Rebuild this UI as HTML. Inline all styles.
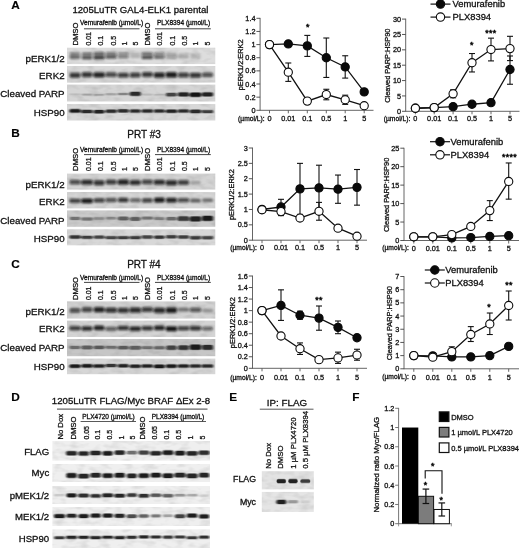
<!DOCTYPE html>
<html lang="en"><head><meta charset="utf-8"><title>Figure</title>
<style>html,body{margin:0;padding:0;background:#fff}body{width:520px;height:549px;overflow:hidden;font-family:"Liberation Sans",sans-serif}svg{display:block}</style>
</head><body>
<svg width="520" height="549" viewBox="0 0 520 549" font-family="Liberation Sans, sans-serif">
<defs>
<filter id="b0_8" x="-20%" y="-100%" width="140%" height="300%"><feGaussianBlur stdDeviation="0.8 0.64"/></filter>
<filter id="b0_9" x="-20%" y="-100%" width="140%" height="300%"><feGaussianBlur stdDeviation="0.9 0.72"/></filter>
<filter id="b1_0" x="-20%" y="-100%" width="140%" height="300%"><feGaussianBlur stdDeviation="1.0 0.80"/></filter>
<filter id="b0_7" x="-20%" y="-100%" width="140%" height="300%"><feGaussianBlur stdDeviation="0.7 0.56"/></filter>
<filter id="b0_6" x="-20%" y="-100%" width="140%" height="300%"><feGaussianBlur stdDeviation="0.6 0.48"/></filter>
<filter id="nz" x="0" y="0" width="100%" height="100%"><feTurbulence type="fractalNoise" baseFrequency="0.09 0.2" numOctaves="2" seed="3" result="t"/><feColorMatrix in="t" type="matrix" values="0 0 0 0 0  0 0 0 0 0  0 0 0 0 0  0.9 0 0 0 -0.38" result="a"/><feComposite in="a" in2="SourceGraphic" operator="in"/></filter>
</defs>
<rect width="520" height="549" fill="#fff"/>
<text x="11.20" y="9.10" font-size="11.8" text-anchor="start" font-weight="bold" fill="#000" stroke="#000" stroke-width="0.15">A</text>
<text x="140.40" y="13.00" font-size="9.6" text-anchor="middle" font-weight="normal" fill="#111" stroke="#111" stroke-width="0.3">1205LuTR GAL4-ELK1 parental</text>
<text x="111.60" y="25.40" font-size="6.6" text-anchor="middle" font-weight="normal" fill="#111" stroke="#111" stroke-width="0.3">Vemurafenib (µmol/L)</text>
<line x1="84.00" y1="28.80" x2="139.50" y2="28.80" stroke="#111" stroke-width="0.8"/>
<text x="183.60" y="25.40" font-size="6.6" text-anchor="middle" font-weight="normal" fill="#111" stroke="#111" stroke-width="0.3">PLX8394 (µmol/L)</text>
<line x1="155.00" y1="28.80" x2="210.80" y2="28.80" stroke="#111" stroke-width="0.8"/>
<text x="78.35" y="45.60" font-size="7.7" text-anchor="start" font-weight="normal" fill="#111" stroke="#111" stroke-width="0.3" transform="rotate(-90 78.35 45.60)">DMSO</text>
<text x="91.15" y="45.60" font-size="6.9" text-anchor="start" font-weight="normal" fill="#111" stroke="#111" stroke-width="0.3" transform="rotate(-90 91.15 45.60)">0.01</text>
<text x="103.35" y="45.60" font-size="6.9" text-anchor="start" font-weight="normal" fill="#111" stroke="#111" stroke-width="0.3" transform="rotate(-90 103.35 45.60)">0.1</text>
<text x="115.65" y="45.60" font-size="6.9" text-anchor="start" font-weight="normal" fill="#111" stroke="#111" stroke-width="0.3" transform="rotate(-90 115.65 45.60)">0.5</text>
<text x="127.25" y="45.60" font-size="6.9" text-anchor="start" font-weight="normal" fill="#111" stroke="#111" stroke-width="0.3" transform="rotate(-90 127.25 45.60)">1</text>
<text x="138.05" y="45.60" font-size="6.9" text-anchor="start" font-weight="normal" fill="#111" stroke="#111" stroke-width="0.3" transform="rotate(-90 138.05 45.60)">5</text>
<text x="149.85" y="45.60" font-size="7.7" text-anchor="start" font-weight="normal" fill="#111" stroke="#111" stroke-width="0.3" transform="rotate(-90 149.85 45.60)">DMSO</text>
<text x="162.45" y="45.60" font-size="6.9" text-anchor="start" font-weight="normal" fill="#111" stroke="#111" stroke-width="0.3" transform="rotate(-90 162.45 45.60)">0.01</text>
<text x="175.05" y="45.60" font-size="6.9" text-anchor="start" font-weight="normal" fill="#111" stroke="#111" stroke-width="0.3" transform="rotate(-90 175.05 45.60)">0.1</text>
<text x="186.85" y="45.60" font-size="6.9" text-anchor="start" font-weight="normal" fill="#111" stroke="#111" stroke-width="0.3" transform="rotate(-90 186.85 45.60)">0.5</text>
<text x="198.45" y="45.60" font-size="6.9" text-anchor="start" font-weight="normal" fill="#111" stroke="#111" stroke-width="0.3" transform="rotate(-90 198.45 45.60)">1</text>
<text x="210.15" y="45.60" font-size="6.9" text-anchor="start" font-weight="normal" fill="#111" stroke="#111" stroke-width="0.3" transform="rotate(-90 210.15 45.60)">5</text>
<clipPath id="c1"><rect x="67" y="47.7" width="148.30" height="16.40"/></clipPath>
<rect x="67" y="47.7" width="148.30" height="16.40" fill="#dddddd"/>
<rect x="67" y="47.7" width="148.30" height="16.40" fill="#000" opacity="0.22" filter="url(#nz)"/>
<g clip-path="url(#c1)"><g filter="url(#b1_0)">
<rect x="69.51" y="52.08" width="10.98" height="6.66" rx="2" fill="#141414" opacity="0.17"/>
<rect x="69.81" y="52.64" width="10.38" height="2.33" rx="1" fill="#141414" opacity="0.41"/>
<rect x="69.81" y="55.86" width="10.38" height="2.77" rx="1" fill="#141414" opacity="0.55"/>
<rect x="81.61" y="52.22" width="10.89" height="7.03" rx="2" fill="#141414" opacity="0.20"/>
<rect x="81.91" y="52.80" width="10.29" height="2.46" rx="1" fill="#141414" opacity="0.49"/>
<rect x="81.91" y="56.20" width="10.29" height="2.93" rx="1" fill="#141414" opacity="0.65"/>
<rect x="93.48" y="51.85" width="11.24" height="7.51" rx="2" fill="#141414" opacity="0.23"/>
<rect x="93.78" y="52.48" width="10.64" height="2.63" rx="1" fill="#141414" opacity="0.58"/>
<rect x="93.78" y="56.11" width="10.64" height="3.13" rx="1" fill="#141414" opacity="0.78"/>
<rect x="105.45" y="51.72" width="11.41" height="6.84" rx="2" fill="#141414" opacity="0.18"/>
<rect x="105.75" y="52.29" width="10.81" height="2.40" rx="1" fill="#141414" opacity="0.45"/>
<rect x="105.75" y="55.60" width="10.81" height="2.85" rx="1" fill="#141414" opacity="0.60"/>
<rect x="117.54" y="51.99" width="11.32" height="6.29" rx="2" fill="#141414" opacity="0.14"/>
<rect x="117.84" y="52.51" width="10.72" height="2.20" rx="1" fill="#141414" opacity="0.34"/>
<rect x="117.84" y="55.55" width="10.72" height="2.62" rx="1" fill="#141414" opacity="0.45"/>
<rect x="129.80" y="52.50" width="10.91" height="5.36" rx="2" fill="#141414" opacity="0.06"/>
<rect x="130.10" y="52.95" width="10.31" height="1.87" rx="1" fill="#141414" opacity="0.15"/>
<rect x="130.10" y="55.54" width="10.31" height="2.23" rx="1" fill="#141414" opacity="0.20"/>
<rect x="141.40" y="51.99" width="11.79" height="7.03" rx="2" fill="#141414" opacity="0.20"/>
<rect x="141.70" y="52.58" width="11.19" height="2.46" rx="1" fill="#141414" opacity="0.49"/>
<rect x="141.70" y="55.98" width="11.19" height="2.93" rx="1" fill="#141414" opacity="0.65"/>
<rect x="153.82" y="51.88" width="11.07" height="6.66" rx="2" fill="#141414" opacity="0.17"/>
<rect x="154.12" y="52.44" width="10.47" height="2.33" rx="1" fill="#141414" opacity="0.41"/>
<rect x="154.12" y="55.66" width="10.47" height="2.77" rx="1" fill="#141414" opacity="0.55"/>
<rect x="165.43" y="52.87" width="11.94" height="5.73" rx="2" fill="#141414" opacity="0.09"/>
<rect x="165.73" y="53.34" width="11.34" height="2.01" rx="1" fill="#141414" opacity="0.22"/>
<rect x="165.73" y="56.11" width="11.34" height="2.39" rx="1" fill="#141414" opacity="0.30"/>
<rect x="177.81" y="52.97" width="11.28" height="5.43" rx="2" fill="#141414" opacity="0.07"/>
<rect x="178.11" y="53.42" width="10.68" height="1.90" rx="1" fill="#141414" opacity="0.17"/>
<rect x="178.11" y="56.05" width="10.68" height="2.26" rx="1" fill="#141414" opacity="0.22"/>
<rect x="190.07" y="53.45" width="10.86" height="5.28" rx="2" fill="#141414" opacity="0.05"/>
<rect x="190.37" y="53.89" width="10.26" height="1.85" rx="1" fill="#141414" opacity="0.14"/>
<rect x="190.37" y="56.44" width="10.26" height="2.20" rx="1" fill="#141414" opacity="0.18"/>
</g></g>
<text x="64.60" y="61.80" font-size="9.75" text-anchor="end" font-weight="normal" fill="#111" stroke="#111" stroke-width="0.3">pERK1/2</text>
<clipPath id="c2"><rect x="67" y="66" width="148.30" height="16.60"/></clipPath>
<rect x="67" y="66" width="148.30" height="16.60" fill="#d8d8d8"/>
<rect x="67" y="66" width="148.30" height="16.60" fill="#000" opacity="0.22" filter="url(#nz)"/>
<g clip-path="url(#c2)"><g filter="url(#b1_0)">
<rect x="69.33" y="72.37" width="11.35" height="5.98" rx="2.00" fill="#101010" opacity="0.26"/>
<rect x="69.73" y="73.07" width="10.55" height="4.58" rx="1.60" fill="#0c0c0c" opacity="0.75"/>
<rect x="81.48" y="71.66" width="11.14" height="5.98" rx="2.00" fill="#101010" opacity="0.26"/>
<rect x="81.88" y="72.36" width="10.34" height="4.58" rx="1.60" fill="#0c0c0c" opacity="0.75"/>
<rect x="93.11" y="71.70" width="11.98" height="6.21" rx="2.00" fill="#101010" opacity="0.30"/>
<rect x="93.51" y="72.40" width="11.18" height="4.81" rx="1.60" fill="#0c0c0c" opacity="0.85"/>
<rect x="105.30" y="71.81" width="11.70" height="5.75" rx="2.00" fill="#101010" opacity="0.23"/>
<rect x="105.70" y="72.51" width="10.90" height="4.35" rx="1.60" fill="#0c0c0c" opacity="0.65"/>
<rect x="117.48" y="72.21" width="11.45" height="5.86" rx="2.00" fill="#101010" opacity="0.24"/>
<rect x="117.88" y="72.91" width="10.65" height="4.46" rx="1.60" fill="#0c0c0c" opacity="0.70"/>
<rect x="129.71" y="72.12" width="11.08" height="5.86" rx="2.00" fill="#101010" opacity="0.24"/>
<rect x="130.11" y="72.82" width="10.28" height="4.46" rx="1.60" fill="#0c0c0c" opacity="0.70"/>
<rect x="141.68" y="71.57" width="11.25" height="5.98" rx="2.00" fill="#101010" opacity="0.26"/>
<rect x="142.08" y="72.27" width="10.45" height="4.58" rx="1.60" fill="#0c0c0c" opacity="0.75"/>
<rect x="153.59" y="72.08" width="11.51" height="6.21" rx="2.00" fill="#101010" opacity="0.30"/>
<rect x="153.99" y="72.78" width="10.71" height="4.81" rx="1.60" fill="#0c0c0c" opacity="0.85"/>
<rect x="165.55" y="71.65" width="11.70" height="6.32" rx="2.00" fill="#101010" opacity="0.32"/>
<rect x="165.95" y="72.35" width="10.90" height="4.92" rx="1.60" fill="#0c0c0c" opacity="0.90"/>
<rect x="177.77" y="72.02" width="11.36" height="5.86" rx="2.00" fill="#101010" opacity="0.24"/>
<rect x="178.17" y="72.72" width="10.56" height="4.46" rx="1.60" fill="#0c0c0c" opacity="0.70"/>
<rect x="189.58" y="72.31" width="11.84" height="5.98" rx="2.00" fill="#101010" opacity="0.26"/>
<rect x="189.98" y="73.01" width="11.04" height="4.58" rx="1.60" fill="#0c0c0c" opacity="0.75"/>
<rect x="201.71" y="71.93" width="11.69" height="5.63" rx="2.00" fill="#101010" opacity="0.21"/>
<rect x="202.11" y="72.63" width="10.89" height="4.23" rx="1.60" fill="#0c0c0c" opacity="0.60"/>
</g></g>
<text x="64.60" y="78.80" font-size="9.75" text-anchor="end" font-weight="normal" fill="#111" stroke="#111" stroke-width="0.3">ERK2</text>
<clipPath id="c3"><rect x="67" y="84.6" width="148.30" height="16.90"/></clipPath>
<rect x="67" y="84.6" width="148.30" height="16.90" fill="#d5d5d5"/>
<rect x="67" y="84.6" width="148.30" height="16.90" fill="#000" opacity="0.22" filter="url(#nz)"/>
<g clip-path="url(#c3)"><g filter="url(#b0_8)">
<rect x="68.97" y="92.91" width="12.05" height="2.93" rx="0.77" fill="#101010" opacity="0.03"/>
<rect x="69.37" y="93.61" width="11.25" height="1.53" rx="0.77" fill="#0c0c0c" opacity="0.08"/>
<rect x="81.38" y="92.97" width="11.35" height="3.23" rx="0.91" fill="#101010" opacity="0.06"/>
<rect x="81.78" y="93.67" width="10.55" height="1.83" rx="0.91" fill="#0c0c0c" opacity="0.18"/>
<rect x="93.53" y="93.22" width="11.14" height="3.23" rx="0.91" fill="#101010" opacity="0.06"/>
<rect x="93.93" y="93.92" width="10.34" height="1.83" rx="0.91" fill="#0c0c0c" opacity="0.18"/>
<rect x="105.20" y="92.65" width="11.91" height="3.23" rx="0.91" fill="#101010" opacity="0.06"/>
<rect x="105.60" y="93.35" width="11.11" height="1.83" rx="0.91" fill="#0c0c0c" opacity="0.18"/>
<rect x="117.41" y="92.21" width="11.59" height="3.58" rx="1.09" fill="#101010" opacity="0.10"/>
<rect x="117.81" y="92.91" width="10.79" height="2.18" rx="1.09" fill="#0c0c0c" opacity="0.30"/>
<rect x="129.35" y="91.36" width="11.80" height="5.06" rx="1.83" fill="#101010" opacity="0.28"/>
<rect x="129.75" y="92.06" width="11.00" height="3.66" rx="1.60" fill="#0c0c0c" opacity="0.80"/>
<rect x="141.46" y="93.12" width="11.69" height="2.99" rx="0.80" fill="#101010" opacity="0.03"/>
<rect x="141.86" y="93.82" width="10.89" height="1.59" rx="0.80" fill="#0c0c0c" opacity="0.10"/>
<rect x="153.66" y="93.23" width="11.38" height="2.99" rx="0.80" fill="#101010" opacity="0.03"/>
<rect x="154.06" y="93.93" width="10.58" height="1.59" rx="0.80" fill="#0c0c0c" opacity="0.10"/>
<rect x="165.54" y="92.24" width="11.71" height="4.62" rx="1.61" fill="#101010" opacity="0.23"/>
<rect x="165.94" y="92.94" width="10.91" height="3.22" rx="1.60" fill="#0c0c0c" opacity="0.65"/>
<rect x="177.68" y="91.82" width="11.55" height="5.21" rx="1.91" fill="#101010" opacity="0.30"/>
<rect x="178.08" y="92.52" width="10.75" height="3.81" rx="1.60" fill="#0c0c0c" opacity="0.85"/>
<rect x="189.43" y="91.94" width="12.13" height="5.51" rx="2.00" fill="#101010" opacity="0.33"/>
<rect x="189.83" y="92.64" width="11.33" height="4.11" rx="1.60" fill="#0c0c0c" opacity="0.95"/>
<rect x="201.65" y="91.72" width="11.80" height="5.21" rx="1.91" fill="#101010" opacity="0.30"/>
<rect x="202.05" y="92.42" width="11.00" height="3.81" rx="1.60" fill="#0c0c0c" opacity="0.85"/>
</g></g>
<text x="64.60" y="97.00" font-size="9.75" text-anchor="end" font-weight="normal" fill="#111" stroke="#111" stroke-width="0.3">Cleaved PARP</text>
<clipPath id="c4"><rect x="67" y="104" width="148.30" height="16.50"/></clipPath>
<rect x="67" y="104" width="148.30" height="16.50" fill="#d8d8d8"/>
<rect x="67" y="104" width="148.30" height="16.50" fill="#000" opacity="0.22" filter="url(#nz)"/>
<g clip-path="url(#c4)"><g filter="url(#b0_8)">
<rect x="69.08" y="108.61" width="11.84" height="4.61" rx="1.60" fill="#101010" opacity="0.32"/>
<rect x="69.48" y="109.31" width="11.04" height="3.21" rx="1.60" fill="#0c0c0c" opacity="0.90"/>
<rect x="80.95" y="109.27" width="12.19" height="4.46" rx="1.53" fill="#101010" opacity="0.28"/>
<rect x="81.35" y="109.97" width="11.39" height="3.06" rx="1.53" fill="#0c0c0c" opacity="0.80"/>
<rect x="93.43" y="109.40" width="11.34" height="4.54" rx="1.57" fill="#101010" opacity="0.30"/>
<rect x="93.83" y="110.10" width="10.54" height="3.13" rx="1.57" fill="#0c0c0c" opacity="0.85"/>
<rect x="105.25" y="109.01" width="11.80" height="4.46" rx="1.53" fill="#101010" opacity="0.28"/>
<rect x="105.65" y="109.71" width="11.00" height="3.06" rx="1.53" fill="#0c0c0c" opacity="0.80"/>
<rect x="117.42" y="108.64" width="11.55" height="4.46" rx="1.53" fill="#101010" opacity="0.28"/>
<rect x="117.82" y="109.34" width="10.75" height="3.06" rx="1.53" fill="#0c0c0c" opacity="0.80"/>
<rect x="129.68" y="108.79" width="11.14" height="4.46" rx="1.53" fill="#101010" opacity="0.28"/>
<rect x="130.08" y="109.49" width="10.34" height="3.06" rx="1.53" fill="#0c0c0c" opacity="0.80"/>
<rect x="141.34" y="108.68" width="11.92" height="4.46" rx="1.53" fill="#101010" opacity="0.28"/>
<rect x="141.74" y="109.38" width="11.12" height="3.06" rx="1.53" fill="#0c0c0c" opacity="0.80"/>
<rect x="153.70" y="108.75" width="11.30" height="4.46" rx="1.53" fill="#101010" opacity="0.28"/>
<rect x="154.10" y="109.45" width="10.50" height="3.06" rx="1.53" fill="#0c0c0c" opacity="0.80"/>
<rect x="165.38" y="108.97" width="12.05" height="4.54" rx="1.57" fill="#101010" opacity="0.30"/>
<rect x="165.78" y="109.67" width="11.25" height="3.13" rx="1.57" fill="#0c0c0c" opacity="0.85"/>
<rect x="177.68" y="108.70" width="11.54" height="4.46" rx="1.53" fill="#101010" opacity="0.28"/>
<rect x="178.08" y="109.40" width="10.74" height="3.06" rx="1.53" fill="#0c0c0c" opacity="0.80"/>
<rect x="189.47" y="109.17" width="12.06" height="4.46" rx="1.53" fill="#101010" opacity="0.28"/>
<rect x="189.87" y="109.87" width="11.26" height="3.06" rx="1.53" fill="#0c0c0c" opacity="0.80"/>
<rect x="201.53" y="109.51" width="12.04" height="4.31" rx="1.46" fill="#101010" opacity="0.24"/>
<rect x="201.93" y="110.21" width="11.24" height="2.91" rx="1.46" fill="#0c0c0c" opacity="0.70"/>
</g></g>
<text x="64.60" y="116.20" font-size="9.75" text-anchor="end" font-weight="normal" fill="#111" stroke="#111" stroke-width="0.3">HSP90</text>
<text x="11.20" y="136.90" font-size="11.8" text-anchor="start" font-weight="bold" fill="#000" stroke="#000" stroke-width="0.15">B</text>
<text x="144.10" y="138.30" font-size="10" text-anchor="middle" font-weight="normal" fill="#111" stroke="#111" stroke-width="0.3">PRT #3</text>
<text x="111.60" y="152.10" font-size="6.6" text-anchor="middle" font-weight="normal" fill="#111" stroke="#111" stroke-width="0.3">Vemurafenib (µmol/L)</text>
<line x1="84.00" y1="154.60" x2="139.50" y2="154.60" stroke="#111" stroke-width="0.8"/>
<text x="183.60" y="152.10" font-size="6.6" text-anchor="middle" font-weight="normal" fill="#111" stroke="#111" stroke-width="0.3">PLX8394 (µmol/L)</text>
<line x1="155.00" y1="154.60" x2="210.80" y2="154.60" stroke="#111" stroke-width="0.8"/>
<text x="78.35" y="170.90" font-size="7.7" text-anchor="start" font-weight="normal" fill="#111" stroke="#111" stroke-width="0.3" transform="rotate(-90 78.35 170.90)">DMSO</text>
<text x="91.15" y="170.90" font-size="6.9" text-anchor="start" font-weight="normal" fill="#111" stroke="#111" stroke-width="0.3" transform="rotate(-90 91.15 170.90)">0.01</text>
<text x="103.35" y="170.90" font-size="6.9" text-anchor="start" font-weight="normal" fill="#111" stroke="#111" stroke-width="0.3" transform="rotate(-90 103.35 170.90)">0.1</text>
<text x="115.65" y="170.90" font-size="6.9" text-anchor="start" font-weight="normal" fill="#111" stroke="#111" stroke-width="0.3" transform="rotate(-90 115.65 170.90)">0.5</text>
<text x="127.25" y="170.90" font-size="6.9" text-anchor="start" font-weight="normal" fill="#111" stroke="#111" stroke-width="0.3" transform="rotate(-90 127.25 170.90)">1</text>
<text x="138.05" y="170.90" font-size="6.9" text-anchor="start" font-weight="normal" fill="#111" stroke="#111" stroke-width="0.3" transform="rotate(-90 138.05 170.90)">5</text>
<text x="149.85" y="170.90" font-size="7.7" text-anchor="start" font-weight="normal" fill="#111" stroke="#111" stroke-width="0.3" transform="rotate(-90 149.85 170.90)">DMSO</text>
<text x="162.45" y="170.90" font-size="6.9" text-anchor="start" font-weight="normal" fill="#111" stroke="#111" stroke-width="0.3" transform="rotate(-90 162.45 170.90)">0.01</text>
<text x="175.05" y="170.90" font-size="6.9" text-anchor="start" font-weight="normal" fill="#111" stroke="#111" stroke-width="0.3" transform="rotate(-90 175.05 170.90)">0.1</text>
<text x="186.85" y="170.90" font-size="6.9" text-anchor="start" font-weight="normal" fill="#111" stroke="#111" stroke-width="0.3" transform="rotate(-90 186.85 170.90)">0.5</text>
<text x="198.45" y="170.90" font-size="6.9" text-anchor="start" font-weight="normal" fill="#111" stroke="#111" stroke-width="0.3" transform="rotate(-90 198.45 170.90)">1</text>
<text x="210.15" y="170.90" font-size="6.9" text-anchor="start" font-weight="normal" fill="#111" stroke="#111" stroke-width="0.3" transform="rotate(-90 210.15 170.90)">5</text>
<clipPath id="c5"><rect x="67" y="173.6" width="148.30" height="16.00"/></clipPath>
<rect x="67" y="173.6" width="148.30" height="16.00" fill="#d4d4d4"/>
<rect x="67" y="173.6" width="148.30" height="16.00" fill="#000" opacity="0.22" filter="url(#nz)"/>
<g clip-path="url(#c5)"><g filter="url(#b1_0)">
<rect x="69.25" y="179.36" width="11.50" height="5.63" rx="2.00" fill="#101010" opacity="0.21"/>
<rect x="69.65" y="180.06" width="10.70" height="4.23" rx="1.60" fill="#0c0c0c" opacity="0.60"/>
<rect x="81.02" y="179.21" width="12.06" height="6.09" rx="2.00" fill="#101010" opacity="0.28"/>
<rect x="81.42" y="179.91" width="11.26" height="4.69" rx="1.60" fill="#0c0c0c" opacity="0.80"/>
<rect x="93.51" y="179.87" width="11.18" height="5.98" rx="2.00" fill="#101010" opacity="0.26"/>
<rect x="93.91" y="180.57" width="10.38" height="4.58" rx="1.60" fill="#0c0c0c" opacity="0.75"/>
<rect x="105.51" y="179.15" width="11.28" height="5.86" rx="2.00" fill="#101010" opacity="0.24"/>
<rect x="105.91" y="179.85" width="10.48" height="4.46" rx="1.60" fill="#0c0c0c" opacity="0.70"/>
<rect x="117.41" y="179.03" width="11.58" height="6.21" rx="2.00" fill="#101010" opacity="0.30"/>
<rect x="117.81" y="179.73" width="10.78" height="4.81" rx="1.60" fill="#0c0c0c" opacity="0.85"/>
<rect x="129.59" y="179.44" width="11.32" height="6.09" rx="2.00" fill="#101010" opacity="0.28"/>
<rect x="129.99" y="180.14" width="10.52" height="4.69" rx="1.60" fill="#0c0c0c" opacity="0.80"/>
<rect x="141.55" y="179.03" width="11.50" height="5.75" rx="2.00" fill="#101010" opacity="0.23"/>
<rect x="141.95" y="179.73" width="10.70" height="4.35" rx="1.60" fill="#0c0c0c" opacity="0.65"/>
<rect x="153.51" y="179.22" width="11.68" height="6.09" rx="2.00" fill="#101010" opacity="0.28"/>
<rect x="153.91" y="179.92" width="10.88" height="4.69" rx="1.60" fill="#0c0c0c" opacity="0.80"/>
<rect x="165.49" y="179.81" width="11.83" height="6.09" rx="2.00" fill="#101010" opacity="0.28"/>
<rect x="165.89" y="180.51" width="11.03" height="4.69" rx="1.60" fill="#0c0c0c" opacity="0.80"/>
<rect x="177.58" y="179.48" width="11.74" height="5.86" rx="2.00" fill="#101010" opacity="0.24"/>
<rect x="177.98" y="180.18" width="10.94" height="4.46" rx="1.60" fill="#0c0c0c" opacity="0.70"/>
<rect x="189.97" y="180.22" width="11.06" height="4.71" rx="1.66" fill="#101010" opacity="0.07"/>
<rect x="190.37" y="180.92" width="10.26" height="3.31" rx="1.60" fill="#0c0c0c" opacity="0.20"/>
</g></g>
<text x="64.60" y="187.60" font-size="9.75" text-anchor="end" font-weight="normal" fill="#111" stroke="#111" stroke-width="0.3">pERK1/2</text>
<clipPath id="c6"><rect x="67" y="192" width="148.30" height="16.40"/></clipPath>
<rect x="67" y="192" width="148.30" height="16.40" fill="#d6d6d6"/>
<rect x="67" y="192" width="148.30" height="16.40" fill="#000" opacity="0.22" filter="url(#nz)"/>
<g clip-path="url(#c6)"><g filter="url(#b1_0)">
<rect x="69.03" y="198.26" width="11.94" height="5.28" rx="1.94" fill="#101010" opacity="0.24"/>
<rect x="69.43" y="198.96" width="11.14" height="3.88" rx="1.60" fill="#0c0c0c" opacity="0.70"/>
<rect x="81.07" y="198.03" width="11.96" height="5.68" rx="2.00" fill="#101010" opacity="0.32"/>
<rect x="81.47" y="198.73" width="11.16" height="4.28" rx="1.60" fill="#0c0c0c" opacity="0.90"/>
<rect x="93.36" y="197.75" width="11.48" height="5.28" rx="1.94" fill="#101010" opacity="0.24"/>
<rect x="93.76" y="198.45" width="10.68" height="3.88" rx="1.60" fill="#0c0c0c" opacity="0.70"/>
<rect x="105.27" y="197.56" width="11.76" height="5.08" rx="1.84" fill="#101010" opacity="0.21"/>
<rect x="105.67" y="198.26" width="10.96" height="3.68" rx="1.60" fill="#0c0c0c" opacity="0.60"/>
<rect x="117.66" y="197.37" width="11.08" height="5.38" rx="1.99" fill="#101010" opacity="0.26"/>
<rect x="118.06" y="198.07" width="10.28" height="3.98" rx="1.60" fill="#0c0c0c" opacity="0.75"/>
<rect x="129.65" y="197.77" width="11.19" height="4.88" rx="1.74" fill="#101010" opacity="0.17"/>
<rect x="130.05" y="198.47" width="10.39" height="3.48" rx="1.60" fill="#0c0c0c" opacity="0.50"/>
<rect x="141.77" y="197.70" width="11.06" height="5.28" rx="1.94" fill="#101010" opacity="0.24"/>
<rect x="142.17" y="198.40" width="10.26" height="3.88" rx="1.60" fill="#0c0c0c" opacity="0.70"/>
<rect x="153.76" y="197.16" width="11.18" height="5.68" rx="2.00" fill="#101010" opacity="0.32"/>
<rect x="154.16" y="197.86" width="10.38" height="4.28" rx="1.60" fill="#0c0c0c" opacity="0.90"/>
<rect x="165.68" y="197.31" width="11.44" height="5.58" rx="2.00" fill="#101010" opacity="0.30"/>
<rect x="166.08" y="198.01" width="10.64" height="4.18" rx="1.60" fill="#0c0c0c" opacity="0.85"/>
<rect x="177.43" y="197.44" width="12.05" height="5.18" rx="1.89" fill="#101010" opacity="0.23"/>
<rect x="177.83" y="198.14" width="11.25" height="3.78" rx="1.60" fill="#0c0c0c" opacity="0.65"/>
<rect x="189.91" y="198.22" width="11.18" height="4.78" rx="1.69" fill="#101010" opacity="0.16"/>
<rect x="190.31" y="198.92" width="10.38" height="3.38" rx="1.60" fill="#0c0c0c" opacity="0.45"/>
<rect x="201.84" y="197.91" width="11.42" height="4.68" rx="1.64" fill="#101010" opacity="0.14"/>
<rect x="202.24" y="198.61" width="10.62" height="3.28" rx="1.60" fill="#0c0c0c" opacity="0.40"/>
</g></g>
<text x="64.60" y="204.60" font-size="9.75" text-anchor="end" font-weight="normal" fill="#111" stroke="#111" stroke-width="0.3">ERK2</text>
<clipPath id="c7"><rect x="67" y="210.4" width="148.30" height="16.40"/></clipPath>
<rect x="67" y="210.4" width="148.30" height="16.40" fill="#cacaca"/>
<rect x="67" y="210.4" width="148.30" height="16.40" fill="#000" opacity="0.22" filter="url(#nz)"/>
<g clip-path="url(#c7)"><g filter="url(#b0_8)">
<rect x="69.43" y="216.32" width="11.15" height="4.30" rx="1.45" fill="#101010" opacity="0.12"/>
<rect x="69.83" y="217.02" width="10.35" height="2.90" rx="1.45" fill="#0c0c0c" opacity="0.35"/>
<rect x="80.95" y="216.80" width="12.19" height="4.30" rx="1.45" fill="#101010" opacity="0.12"/>
<rect x="81.35" y="217.50" width="11.39" height="2.90" rx="1.45" fill="#0c0c0c" opacity="0.35"/>
<rect x="93.31" y="216.60" width="11.58" height="3.93" rx="1.26" fill="#101010" opacity="0.09"/>
<rect x="93.71" y="217.30" width="10.78" height="2.53" rx="1.26" fill="#0c0c0c" opacity="0.25"/>
<rect x="105.59" y="216.22" width="11.12" height="3.93" rx="1.26" fill="#101010" opacity="0.09"/>
<rect x="105.99" y="216.92" width="10.32" height="2.53" rx="1.26" fill="#0c0c0c" opacity="0.25"/>
<rect x="117.54" y="216.02" width="11.32" height="4.85" rx="1.72" fill="#101010" opacity="0.17"/>
<rect x="117.94" y="216.72" width="10.52" height="3.45" rx="1.60" fill="#0c0c0c" opacity="0.50"/>
<rect x="129.65" y="216.50" width="11.19" height="4.85" rx="1.72" fill="#101010" opacity="0.17"/>
<rect x="130.05" y="217.20" width="10.39" height="3.45" rx="1.60" fill="#0c0c0c" opacity="0.50"/>
<rect x="141.23" y="215.97" width="12.14" height="4.30" rx="1.45" fill="#101010" opacity="0.12"/>
<rect x="141.63" y="216.67" width="11.34" height="2.90" rx="1.45" fill="#0c0c0c" opacity="0.35"/>
<rect x="153.76" y="216.57" width="11.18" height="4.11" rx="1.36" fill="#101010" opacity="0.10"/>
<rect x="154.16" y="217.27" width="10.38" height="2.71" rx="1.36" fill="#0c0c0c" opacity="0.30"/>
<rect x="165.88" y="216.40" width="11.03" height="4.48" rx="1.54" fill="#101010" opacity="0.14"/>
<rect x="166.28" y="217.10" width="10.23" height="3.08" rx="1.54" fill="#0c0c0c" opacity="0.40"/>
<rect x="177.36" y="215.84" width="12.17" height="5.59" rx="2.00" fill="#101010" opacity="0.24"/>
<rect x="177.76" y="216.54" width="11.37" height="4.19" rx="1.60" fill="#0c0c0c" opacity="0.70"/>
<rect x="189.58" y="215.89" width="11.84" height="6.14" rx="2.00" fill="#101010" opacity="0.30"/>
<rect x="189.98" y="216.59" width="11.04" height="4.74" rx="1.60" fill="#0c0c0c" opacity="0.85"/>
<rect x="201.83" y="215.20" width="11.44" height="6.32" rx="2.00" fill="#101010" opacity="0.32"/>
<rect x="202.23" y="215.90" width="10.64" height="4.92" rx="1.60" fill="#0c0c0c" opacity="0.90"/>
</g></g>
<text x="64.60" y="223.60" font-size="9.75" text-anchor="end" font-weight="normal" fill="#111" stroke="#111" stroke-width="0.3">Cleaved PARP</text>
<clipPath id="c8"><rect x="67" y="229.3" width="148.30" height="16.00"/></clipPath>
<rect x="67" y="229.3" width="148.30" height="16.00" fill="#d8d8d8"/>
<rect x="67" y="229.3" width="148.30" height="16.00" fill="#000" opacity="0.22" filter="url(#nz)"/>
<g clip-path="url(#c8)"><g filter="url(#b0_8)">
<rect x="69.04" y="234.77" width="11.93" height="4.38" rx="1.49" fill="#101010" opacity="0.26"/>
<rect x="69.44" y="235.47" width="11.13" height="2.98" rx="1.49" fill="#0c0c0c" opacity="0.75"/>
<rect x="81.08" y="235.18" width="11.93" height="4.31" rx="1.46" fill="#101010" opacity="0.24"/>
<rect x="81.48" y="235.88" width="11.13" height="2.91" rx="1.46" fill="#0c0c0c" opacity="0.70"/>
<rect x="93.47" y="235.01" width="11.27" height="4.23" rx="1.42" fill="#101010" opacity="0.23"/>
<rect x="93.87" y="235.71" width="10.47" height="2.83" rx="1.42" fill="#0c0c0c" opacity="0.65"/>
<rect x="105.06" y="235.49" width="12.18" height="4.23" rx="1.42" fill="#101010" opacity="0.23"/>
<rect x="105.46" y="236.19" width="11.38" height="2.83" rx="1.42" fill="#0c0c0c" opacity="0.65"/>
<rect x="117.22" y="235.50" width="11.97" height="4.31" rx="1.46" fill="#101010" opacity="0.24"/>
<rect x="117.62" y="236.20" width="11.17" height="2.91" rx="1.46" fill="#0c0c0c" opacity="0.70"/>
<rect x="129.31" y="235.46" width="11.89" height="4.31" rx="1.46" fill="#101010" opacity="0.24"/>
<rect x="129.71" y="236.16" width="11.09" height="2.91" rx="1.46" fill="#0c0c0c" opacity="0.70"/>
<rect x="141.49" y="234.91" width="11.62" height="4.23" rx="1.42" fill="#101010" opacity="0.23"/>
<rect x="141.89" y="235.61" width="10.82" height="2.83" rx="1.42" fill="#0c0c0c" opacity="0.65"/>
<rect x="153.83" y="234.96" width="11.03" height="4.38" rx="1.49" fill="#101010" opacity="0.26"/>
<rect x="154.23" y="235.66" width="10.23" height="2.98" rx="1.49" fill="#0c0c0c" opacity="0.75"/>
<rect x="165.73" y="234.67" width="11.34" height="4.31" rx="1.46" fill="#101010" opacity="0.24"/>
<rect x="166.13" y="235.37" width="10.54" height="2.91" rx="1.46" fill="#0c0c0c" opacity="0.70"/>
<rect x="177.53" y="234.90" width="11.83" height="4.31" rx="1.46" fill="#101010" opacity="0.24"/>
<rect x="177.93" y="235.60" width="11.03" height="2.91" rx="1.46" fill="#0c0c0c" opacity="0.70"/>
<rect x="189.73" y="235.60" width="11.54" height="4.31" rx="1.46" fill="#101010" opacity="0.24"/>
<rect x="190.13" y="236.30" width="10.74" height="2.91" rx="1.46" fill="#0c0c0c" opacity="0.70"/>
<rect x="201.46" y="235.62" width="12.19" height="4.23" rx="1.42" fill="#101010" opacity="0.23"/>
<rect x="201.86" y="236.32" width="11.39" height="2.83" rx="1.42" fill="#0c0c0c" opacity="0.65"/>
</g></g>
<text x="64.60" y="242.40" font-size="9.75" text-anchor="end" font-weight="normal" fill="#111" stroke="#111" stroke-width="0.3">HSP90</text>
<text x="11.20" y="268.00" font-size="11.8" text-anchor="start" font-weight="bold" fill="#000" stroke="#000" stroke-width="0.15">C</text>
<text x="143.90" y="268.30" font-size="10" text-anchor="middle" font-weight="normal" fill="#111" stroke="#111" stroke-width="0.3">PRT #4</text>
<text x="111.60" y="279.80" font-size="6.6" text-anchor="middle" font-weight="normal" fill="#111" stroke="#111" stroke-width="0.3">Vemurafenib (µmol/L)</text>
<line x1="84.00" y1="282.40" x2="139.50" y2="282.40" stroke="#111" stroke-width="0.8"/>
<text x="183.60" y="279.80" font-size="6.6" text-anchor="middle" font-weight="normal" fill="#111" stroke="#111" stroke-width="0.3">PLX8394 (µmol/L)</text>
<line x1="155.00" y1="282.40" x2="210.80" y2="282.40" stroke="#111" stroke-width="0.8"/>
<text x="78.35" y="300.00" font-size="7.7" text-anchor="start" font-weight="normal" fill="#111" stroke="#111" stroke-width="0.3" transform="rotate(-90 78.35 300.00)">DMSO</text>
<text x="91.15" y="300.00" font-size="6.9" text-anchor="start" font-weight="normal" fill="#111" stroke="#111" stroke-width="0.3" transform="rotate(-90 91.15 300.00)">0.01</text>
<text x="103.35" y="300.00" font-size="6.9" text-anchor="start" font-weight="normal" fill="#111" stroke="#111" stroke-width="0.3" transform="rotate(-90 103.35 300.00)">0.1</text>
<text x="115.65" y="300.00" font-size="6.9" text-anchor="start" font-weight="normal" fill="#111" stroke="#111" stroke-width="0.3" transform="rotate(-90 115.65 300.00)">0.5</text>
<text x="127.25" y="300.00" font-size="6.9" text-anchor="start" font-weight="normal" fill="#111" stroke="#111" stroke-width="0.3" transform="rotate(-90 127.25 300.00)">1</text>
<text x="138.05" y="300.00" font-size="6.9" text-anchor="start" font-weight="normal" fill="#111" stroke="#111" stroke-width="0.3" transform="rotate(-90 138.05 300.00)">5</text>
<text x="149.85" y="300.00" font-size="7.7" text-anchor="start" font-weight="normal" fill="#111" stroke="#111" stroke-width="0.3" transform="rotate(-90 149.85 300.00)">DMSO</text>
<text x="162.45" y="300.00" font-size="6.9" text-anchor="start" font-weight="normal" fill="#111" stroke="#111" stroke-width="0.3" transform="rotate(-90 162.45 300.00)">0.01</text>
<text x="175.05" y="300.00" font-size="6.9" text-anchor="start" font-weight="normal" fill="#111" stroke="#111" stroke-width="0.3" transform="rotate(-90 175.05 300.00)">0.1</text>
<text x="186.85" y="300.00" font-size="6.9" text-anchor="start" font-weight="normal" fill="#111" stroke="#111" stroke-width="0.3" transform="rotate(-90 186.85 300.00)">0.5</text>
<text x="198.45" y="300.00" font-size="6.9" text-anchor="start" font-weight="normal" fill="#111" stroke="#111" stroke-width="0.3" transform="rotate(-90 198.45 300.00)">1</text>
<text x="210.15" y="300.00" font-size="6.9" text-anchor="start" font-weight="normal" fill="#111" stroke="#111" stroke-width="0.3" transform="rotate(-90 210.15 300.00)">5</text>
<clipPath id="c9"><rect x="67" y="301.4" width="148.30" height="17.20"/></clipPath>
<rect x="67" y="301.4" width="148.30" height="17.20" fill="#d2d2d2"/>
<rect x="67" y="301.4" width="148.30" height="17.20" fill="#000" opacity="0.22" filter="url(#nz)"/>
<g clip-path="url(#c9)"><g filter="url(#b1_0)">
<rect x="69.28" y="307.64" width="11.44" height="5.63" rx="2.00" fill="#101010" opacity="0.21"/>
<rect x="69.68" y="308.34" width="10.64" height="4.23" rx="1.60" fill="#0c0c0c" opacity="0.60"/>
<rect x="81.41" y="306.85" width="11.27" height="5.75" rx="2.00" fill="#101010" opacity="0.23"/>
<rect x="81.81" y="307.55" width="10.47" height="4.35" rx="1.60" fill="#0c0c0c" opacity="0.65"/>
<rect x="93.48" y="306.59" width="11.25" height="6.21" rx="2.00" fill="#101010" opacity="0.30"/>
<rect x="93.88" y="307.29" width="10.45" height="4.81" rx="1.60" fill="#0c0c0c" opacity="0.85"/>
<rect x="105.11" y="307.14" width="12.08" height="5.98" rx="2.00" fill="#101010" opacity="0.26"/>
<rect x="105.51" y="307.84" width="11.28" height="4.58" rx="1.60" fill="#0c0c0c" opacity="0.75"/>
<rect x="117.41" y="307.35" width="11.58" height="5.98" rx="2.00" fill="#101010" opacity="0.26"/>
<rect x="117.81" y="308.05" width="10.78" height="4.58" rx="1.60" fill="#0c0c0c" opacity="0.75"/>
<rect x="129.27" y="307.11" width="11.96" height="6.09" rx="2.00" fill="#101010" opacity="0.28"/>
<rect x="129.67" y="307.81" width="11.16" height="4.69" rx="1.60" fill="#0c0c0c" opacity="0.80"/>
<rect x="141.40" y="306.65" width="11.79" height="5.86" rx="2.00" fill="#101010" opacity="0.24"/>
<rect x="141.80" y="307.35" width="10.99" height="4.46" rx="1.60" fill="#0c0c0c" opacity="0.70"/>
<rect x="153.38" y="307.36" width="11.94" height="6.09" rx="2.00" fill="#101010" opacity="0.28"/>
<rect x="153.78" y="308.06" width="11.14" height="4.69" rx="1.60" fill="#0c0c0c" opacity="0.80"/>
<rect x="165.61" y="307.09" width="11.57" height="6.32" rx="2.00" fill="#101010" opacity="0.32"/>
<rect x="166.01" y="307.79" width="10.77" height="4.92" rx="1.60" fill="#0c0c0c" opacity="0.90"/>
<rect x="177.48" y="307.15" width="11.95" height="5.06" rx="1.83" fill="#101010" opacity="0.12"/>
<rect x="177.88" y="307.85" width="11.15" height="3.66" rx="1.60" fill="#0c0c0c" opacity="0.35"/>
<rect x="189.52" y="307.07" width="11.96" height="5.52" rx="2.00" fill="#101010" opacity="0.19"/>
<rect x="189.92" y="307.77" width="11.16" height="4.12" rx="1.60" fill="#0c0c0c" opacity="0.55"/>
<rect x="201.81" y="308.12" width="11.48" height="4.71" rx="1.66" fill="#101010" opacity="0.07"/>
<rect x="202.21" y="308.82" width="10.68" height="3.31" rx="1.60" fill="#0c0c0c" opacity="0.20"/>
</g></g>
<text x="64.60" y="315.00" font-size="9.75" text-anchor="end" font-weight="normal" fill="#111" stroke="#111" stroke-width="0.3">pERK1/2</text>
<clipPath id="c10"><rect x="67" y="320.6" width="148.30" height="16.40"/></clipPath>
<rect x="67" y="320.6" width="148.30" height="16.40" fill="#d4d4d4"/>
<rect x="67" y="320.6" width="148.30" height="16.40" fill="#000" opacity="0.22" filter="url(#nz)"/>
<g clip-path="url(#c10)"><g filter="url(#b1_0)">
<rect x="68.93" y="325.56" width="12.14" height="5.28" rx="1.94" fill="#101010" opacity="0.24"/>
<rect x="69.33" y="326.26" width="11.34" height="3.88" rx="1.60" fill="#0c0c0c" opacity="0.70"/>
<rect x="81.45" y="325.78" width="11.20" height="5.48" rx="2.00" fill="#101010" opacity="0.28"/>
<rect x="81.85" y="326.48" width="10.40" height="4.08" rx="1.60" fill="#0c0c0c" opacity="0.80"/>
<rect x="93.51" y="325.14" width="11.18" height="5.58" rx="2.00" fill="#101010" opacity="0.30"/>
<rect x="93.91" y="325.84" width="10.38" height="4.18" rx="1.60" fill="#0c0c0c" opacity="0.85"/>
<rect x="105.17" y="326.21" width="11.97" height="4.98" rx="1.79" fill="#101010" opacity="0.19"/>
<rect x="105.57" y="326.91" width="11.17" height="3.58" rx="1.60" fill="#0c0c0c" opacity="0.55"/>
<rect x="117.20" y="325.26" width="11.99" height="5.38" rx="1.99" fill="#101010" opacity="0.26"/>
<rect x="117.60" y="325.96" width="11.19" height="3.98" rx="1.60" fill="#0c0c0c" opacity="0.75"/>
<rect x="129.36" y="325.99" width="11.79" height="5.58" rx="2.00" fill="#101010" opacity="0.30"/>
<rect x="129.76" y="326.69" width="10.99" height="4.18" rx="1.60" fill="#0c0c0c" opacity="0.85"/>
<rect x="141.47" y="325.46" width="11.66" height="5.38" rx="1.99" fill="#101010" opacity="0.26"/>
<rect x="141.87" y="326.16" width="10.86" height="3.98" rx="1.60" fill="#0c0c0c" opacity="0.75"/>
<rect x="153.84" y="325.14" width="11.02" height="5.58" rx="2.00" fill="#101010" opacity="0.30"/>
<rect x="154.24" y="325.84" width="10.22" height="4.18" rx="1.60" fill="#0c0c0c" opacity="0.85"/>
<rect x="165.51" y="325.88" width="11.78" height="5.78" rx="2.00" fill="#101010" opacity="0.33"/>
<rect x="165.91" y="326.58" width="10.98" height="4.38" rx="1.60" fill="#0c0c0c" opacity="0.95"/>
<rect x="177.39" y="325.69" width="12.12" height="5.28" rx="1.94" fill="#101010" opacity="0.24"/>
<rect x="177.79" y="326.39" width="11.32" height="3.88" rx="1.60" fill="#0c0c0c" opacity="0.70"/>
<rect x="189.48" y="325.54" width="12.05" height="5.38" rx="1.99" fill="#101010" opacity="0.26"/>
<rect x="189.88" y="326.24" width="11.25" height="3.98" rx="1.60" fill="#0c0c0c" opacity="0.75"/>
<rect x="201.92" y="326.19" width="11.25" height="4.88" rx="1.74" fill="#101010" opacity="0.17"/>
<rect x="202.32" y="326.89" width="10.45" height="3.48" rx="1.60" fill="#0c0c0c" opacity="0.50"/>
</g></g>
<text x="64.60" y="332.00" font-size="9.75" text-anchor="end" font-weight="normal" fill="#111" stroke="#111" stroke-width="0.3">ERK2</text>
<clipPath id="c11"><rect x="67" y="339" width="148.30" height="17.20"/></clipPath>
<rect x="67" y="339" width="148.30" height="17.20" fill="#c6c6c6"/>
<rect x="67" y="339" width="148.30" height="17.20" fill="#000" opacity="0.22" filter="url(#nz)"/>
<g clip-path="url(#c11)"><g filter="url(#b0_8)">
<rect x="69.32" y="345.30" width="11.35" height="4.30" rx="1.45" fill="#101010" opacity="0.12"/>
<rect x="69.72" y="346.00" width="10.55" height="2.90" rx="1.45" fill="#0c0c0c" opacity="0.35"/>
<rect x="81.20" y="345.02" width="11.70" height="4.85" rx="1.72" fill="#101010" opacity="0.17"/>
<rect x="81.60" y="345.72" width="10.90" height="3.45" rx="1.60" fill="#0c0c0c" opacity="0.50"/>
<rect x="93.35" y="345.13" width="11.50" height="4.67" rx="1.63" fill="#101010" opacity="0.16"/>
<rect x="93.75" y="345.83" width="10.70" height="3.27" rx="1.60" fill="#0c0c0c" opacity="0.45"/>
<rect x="105.10" y="345.18" width="12.09" height="4.30" rx="1.45" fill="#101010" opacity="0.12"/>
<rect x="105.50" y="345.88" width="11.29" height="2.90" rx="1.45" fill="#0c0c0c" opacity="0.35"/>
<rect x="117.43" y="345.22" width="11.55" height="4.67" rx="1.63" fill="#101010" opacity="0.16"/>
<rect x="117.83" y="345.92" width="10.75" height="3.27" rx="1.60" fill="#0c0c0c" opacity="0.45"/>
<rect x="129.21" y="345.36" width="12.09" height="4.85" rx="1.72" fill="#101010" opacity="0.17"/>
<rect x="129.61" y="346.06" width="11.29" height="3.45" rx="1.60" fill="#0c0c0c" opacity="0.50"/>
<rect x="141.25" y="345.47" width="12.10" height="4.30" rx="1.45" fill="#101010" opacity="0.12"/>
<rect x="141.65" y="346.17" width="11.30" height="2.90" rx="1.45" fill="#0c0c0c" opacity="0.35"/>
<rect x="153.53" y="345.46" width="11.64" height="4.48" rx="1.54" fill="#101010" opacity="0.14"/>
<rect x="153.93" y="346.16" width="10.84" height="3.08" rx="1.54" fill="#0c0c0c" opacity="0.40"/>
<rect x="165.89" y="345.02" width="11.02" height="5.40" rx="2.00" fill="#101010" opacity="0.23"/>
<rect x="166.29" y="345.72" width="10.22" height="4.00" rx="1.60" fill="#0c0c0c" opacity="0.65"/>
<rect x="177.84" y="344.76" width="11.22" height="5.77" rx="2.00" fill="#101010" opacity="0.26"/>
<rect x="178.24" y="345.46" width="10.42" height="4.37" rx="1.60" fill="#0c0c0c" opacity="0.75"/>
<rect x="189.52" y="344.04" width="11.96" height="6.32" rx="2.00" fill="#101010" opacity="0.32"/>
<rect x="189.92" y="344.74" width="11.16" height="4.92" rx="1.60" fill="#0c0c0c" opacity="0.90"/>
<rect x="201.77" y="344.40" width="11.57" height="5.95" rx="2.00" fill="#101010" opacity="0.28"/>
<rect x="202.17" y="345.10" width="10.77" height="4.55" rx="1.60" fill="#0c0c0c" opacity="0.80"/>
</g></g>
<text x="64.60" y="350.80" font-size="9.75" text-anchor="end" font-weight="normal" fill="#111" stroke="#111" stroke-width="0.3">Cleaved PARP</text>
<clipPath id="c12"><rect x="67" y="358.6" width="148.30" height="15.60"/></clipPath>
<rect x="67" y="358.6" width="148.30" height="15.60" fill="#d6d6d6"/>
<rect x="67" y="358.6" width="148.30" height="15.60" fill="#000" opacity="0.22" filter="url(#nz)"/>
<g clip-path="url(#c12)"><g filter="url(#b0_8)">
<rect x="69.17" y="363.92" width="11.67" height="4.61" rx="1.60" fill="#101010" opacity="0.32"/>
<rect x="69.57" y="364.62" width="10.87" height="3.21" rx="1.60" fill="#0c0c0c" opacity="0.90"/>
<rect x="81.24" y="363.52" width="11.62" height="4.61" rx="1.60" fill="#101010" opacity="0.32"/>
<rect x="81.64" y="364.22" width="10.82" height="3.21" rx="1.60" fill="#0c0c0c" opacity="0.90"/>
<rect x="93.13" y="363.79" width="11.94" height="4.54" rx="1.57" fill="#101010" opacity="0.30"/>
<rect x="93.53" y="364.49" width="11.14" height="3.13" rx="1.57" fill="#0c0c0c" opacity="0.85"/>
<rect x="105.31" y="363.41" width="11.67" height="4.38" rx="1.49" fill="#101010" opacity="0.26"/>
<rect x="105.71" y="364.11" width="10.87" height="2.98" rx="1.49" fill="#0c0c0c" opacity="0.75"/>
<rect x="117.53" y="363.48" width="11.33" height="4.54" rx="1.57" fill="#101010" opacity="0.30"/>
<rect x="117.93" y="364.18" width="10.53" height="3.13" rx="1.57" fill="#0c0c0c" opacity="0.85"/>
<rect x="129.45" y="364.00" width="11.61" height="4.54" rx="1.57" fill="#101010" opacity="0.30"/>
<rect x="129.85" y="364.70" width="10.81" height="3.13" rx="1.57" fill="#0c0c0c" opacity="0.85"/>
<rect x="141.34" y="363.79" width="11.91" height="4.54" rx="1.57" fill="#101010" opacity="0.30"/>
<rect x="141.74" y="364.49" width="11.11" height="3.13" rx="1.57" fill="#0c0c0c" opacity="0.85"/>
<rect x="153.58" y="364.11" width="11.53" height="4.61" rx="1.60" fill="#101010" opacity="0.32"/>
<rect x="153.98" y="364.81" width="10.73" height="3.21" rx="1.60" fill="#0c0c0c" opacity="0.90"/>
<rect x="165.60" y="363.81" width="11.61" height="4.61" rx="1.60" fill="#101010" opacity="0.32"/>
<rect x="166.00" y="364.51" width="10.81" height="3.21" rx="1.60" fill="#0c0c0c" opacity="0.90"/>
<rect x="177.53" y="363.74" width="11.83" height="4.54" rx="1.57" fill="#101010" opacity="0.30"/>
<rect x="177.93" y="364.44" width="11.03" height="3.13" rx="1.57" fill="#0c0c0c" opacity="0.85"/>
<rect x="189.68" y="363.72" width="11.64" height="4.46" rx="1.53" fill="#101010" opacity="0.28"/>
<rect x="190.08" y="364.42" width="10.84" height="3.06" rx="1.53" fill="#0c0c0c" opacity="0.80"/>
<rect x="201.49" y="363.75" width="12.13" height="4.46" rx="1.53" fill="#101010" opacity="0.28"/>
<rect x="201.89" y="364.45" width="11.33" height="3.06" rx="1.53" fill="#0c0c0c" opacity="0.80"/>
</g></g>
<text x="64.60" y="370.00" font-size="9.75" text-anchor="end" font-weight="normal" fill="#111" stroke="#111" stroke-width="0.3">HSP90</text>
<line x1="260.10" y1="17.90" x2="260.10" y2="110.70" stroke="#555" stroke-width="0.9"/>
<line x1="260.10" y1="110.30" x2="373.50" y2="110.30" stroke="#555" stroke-width="0.9"/>
<line x1="256.40" y1="110.30" x2="260.10" y2="110.30" stroke="#444" stroke-width="0.9"/>
<text x="255.50" y="112.90" font-size="7.3" text-anchor="end" font-weight="normal" fill="#111" stroke="#111" stroke-width="0.3">0</text>
<line x1="256.40" y1="97.16" x2="260.10" y2="97.16" stroke="#444" stroke-width="0.9"/>
<text x="255.50" y="99.76" font-size="7.3" text-anchor="end" font-weight="normal" fill="#111" stroke="#111" stroke-width="0.3">0.2</text>
<line x1="256.40" y1="84.01" x2="260.10" y2="84.01" stroke="#444" stroke-width="0.9"/>
<text x="255.50" y="86.61" font-size="7.3" text-anchor="end" font-weight="normal" fill="#111" stroke="#111" stroke-width="0.3">0.4</text>
<line x1="256.40" y1="70.87" x2="260.10" y2="70.87" stroke="#444" stroke-width="0.9"/>
<text x="255.50" y="73.47" font-size="7.3" text-anchor="end" font-weight="normal" fill="#111" stroke="#111" stroke-width="0.3">0.6</text>
<line x1="256.40" y1="57.73" x2="260.10" y2="57.73" stroke="#444" stroke-width="0.9"/>
<text x="255.50" y="60.33" font-size="7.3" text-anchor="end" font-weight="normal" fill="#111" stroke="#111" stroke-width="0.3">0.8</text>
<line x1="256.40" y1="44.59" x2="260.10" y2="44.59" stroke="#444" stroke-width="0.9"/>
<text x="255.50" y="47.19" font-size="7.3" text-anchor="end" font-weight="normal" fill="#111" stroke="#111" stroke-width="0.3">1</text>
<line x1="256.40" y1="31.44" x2="260.10" y2="31.44" stroke="#444" stroke-width="0.9"/>
<text x="255.50" y="34.04" font-size="7.3" text-anchor="end" font-weight="normal" fill="#111" stroke="#111" stroke-width="0.3">1.2</text>
<line x1="256.40" y1="18.30" x2="260.10" y2="18.30" stroke="#444" stroke-width="0.9"/>
<text x="255.50" y="20.90" font-size="7.3" text-anchor="end" font-weight="normal" fill="#111" stroke="#111" stroke-width="0.3">1.4</text>
<line x1="269.50" y1="110.30" x2="269.50" y2="113.30" stroke="#555" stroke-width="0.9"/>
<line x1="288.30" y1="110.30" x2="288.30" y2="113.30" stroke="#555" stroke-width="0.9"/>
<line x1="307.30" y1="110.30" x2="307.30" y2="113.30" stroke="#555" stroke-width="0.9"/>
<line x1="326.30" y1="110.30" x2="326.30" y2="113.30" stroke="#555" stroke-width="0.9"/>
<line x1="345.20" y1="110.30" x2="345.20" y2="113.30" stroke="#555" stroke-width="0.9"/>
<line x1="364.20" y1="110.30" x2="364.20" y2="113.30" stroke="#555" stroke-width="0.9"/>
<text x="269.50" y="121.10" font-size="7.3" text-anchor="middle" font-weight="normal" fill="#111" stroke="#111" stroke-width="0.3">0</text>
<text x="288.30" y="121.10" font-size="7.3" text-anchor="middle" font-weight="normal" fill="#111" stroke="#111" stroke-width="0.3">0.01</text>
<text x="307.30" y="121.10" font-size="7.3" text-anchor="middle" font-weight="normal" fill="#111" stroke="#111" stroke-width="0.3">0.1</text>
<text x="326.30" y="121.10" font-size="7.3" text-anchor="middle" font-weight="normal" fill="#111" stroke="#111" stroke-width="0.3">0.5</text>
<text x="345.20" y="121.10" font-size="7.3" text-anchor="middle" font-weight="normal" fill="#111" stroke="#111" stroke-width="0.3">1</text>
<text x="364.20" y="121.10" font-size="7.3" text-anchor="middle" font-weight="normal" fill="#111" stroke="#111" stroke-width="0.3">5</text>
<text x="264.60" y="120.80" font-size="6.7" text-anchor="end" font-weight="normal" fill="#111" stroke="#111" stroke-width="0.3">(µmol/L):</text>
<text x="242.70" y="64.80" font-size="7.4" text-anchor="middle" font-weight="normal" fill="#111" stroke="#111" stroke-width="0.3" transform="rotate(-90 242.70 64.80)">pERK1/2:ERK2</text>
<line x1="307.30" y1="56.41" x2="307.30" y2="35.39" stroke="#111" stroke-width="1.1"/>
<line x1="304.30" y1="56.41" x2="310.30" y2="56.41" stroke="#111" stroke-width="1.1"/>
<line x1="304.30" y1="35.39" x2="310.30" y2="35.39" stroke="#111" stroke-width="1.1"/>
<line x1="326.30" y1="77.44" x2="326.30" y2="38.01" stroke="#111" stroke-width="1.1"/>
<line x1="323.30" y1="77.44" x2="329.30" y2="77.44" stroke="#111" stroke-width="1.1"/>
<line x1="323.30" y1="38.01" x2="329.30" y2="38.01" stroke="#111" stroke-width="1.1"/>
<line x1="345.20" y1="78.10" x2="345.20" y2="55.76" stroke="#111" stroke-width="1.1"/>
<line x1="342.20" y1="78.10" x2="348.20" y2="78.10" stroke="#111" stroke-width="1.1"/>
<line x1="342.20" y1="55.76" x2="348.20" y2="55.76" stroke="#111" stroke-width="1.1"/>
<polyline points="269.50,44.59 288.30,43.93 307.30,45.90 326.30,57.73 345.20,66.93 364.20,91.90" fill="none" stroke="#111" stroke-width="1.3"/>
<circle cx="269.50" cy="44.59" r="4.1" fill="#0a0a0a" stroke="#0a0a0a" stroke-width="1.1"/>
<circle cx="288.30" cy="43.93" r="4.1" fill="#0a0a0a" stroke="#0a0a0a" stroke-width="1.1"/>
<circle cx="307.30" cy="45.90" r="4.1" fill="#0a0a0a" stroke="#0a0a0a" stroke-width="1.1"/>
<circle cx="326.30" cy="57.73" r="4.1" fill="#0a0a0a" stroke="#0a0a0a" stroke-width="1.1"/>
<circle cx="345.20" cy="66.93" r="4.1" fill="#0a0a0a" stroke="#0a0a0a" stroke-width="1.1"/>
<circle cx="364.20" cy="91.90" r="4.1" fill="#0a0a0a" stroke="#0a0a0a" stroke-width="1.1"/>
<line x1="288.30" y1="81.39" x2="288.30" y2="62.99" stroke="#111" stroke-width="1.1"/>
<line x1="285.30" y1="81.39" x2="291.30" y2="81.39" stroke="#111" stroke-width="1.1"/>
<line x1="285.30" y1="62.99" x2="291.30" y2="62.99" stroke="#111" stroke-width="1.1"/>
<line x1="326.30" y1="99.79" x2="326.30" y2="89.27" stroke="#111" stroke-width="1.1"/>
<line x1="323.30" y1="99.79" x2="329.30" y2="99.79" stroke="#111" stroke-width="1.1"/>
<line x1="323.30" y1="89.27" x2="329.30" y2="89.27" stroke="#111" stroke-width="1.1"/>
<line x1="345.20" y1="104.39" x2="345.20" y2="95.19" stroke="#111" stroke-width="1.1"/>
<line x1="342.20" y1="104.39" x2="348.20" y2="104.39" stroke="#111" stroke-width="1.1"/>
<line x1="342.20" y1="95.19" x2="348.20" y2="95.19" stroke="#111" stroke-width="1.1"/>
<polyline points="269.50,44.59 288.30,72.19 307.30,101.10 326.30,94.53 345.20,99.79 364.20,105.70" fill="none" stroke="#111" stroke-width="1.3"/>
<circle cx="269.50" cy="44.59" r="4.1" fill="#fff" stroke="#0a0a0a" stroke-width="1.1"/>
<circle cx="288.30" cy="72.19" r="4.1" fill="#fff" stroke="#0a0a0a" stroke-width="1.1"/>
<circle cx="307.30" cy="101.10" r="4.1" fill="#fff" stroke="#0a0a0a" stroke-width="1.1"/>
<circle cx="326.30" cy="94.53" r="4.1" fill="#fff" stroke="#0a0a0a" stroke-width="1.1"/>
<circle cx="345.20" cy="99.79" r="4.1" fill="#fff" stroke="#0a0a0a" stroke-width="1.1"/>
<circle cx="364.20" cy="105.70" r="4.1" fill="#fff" stroke="#0a0a0a" stroke-width="1.1"/>
<text x="308.00" y="29.75" font-size="8.8" text-anchor="middle" font-weight="normal" fill="#111" stroke="#111" stroke-width="0.5" letter-spacing="0.35">*</text>
<line x1="405.70" y1="18.70" x2="405.70" y2="111.70" stroke="#555" stroke-width="0.9"/>
<line x1="405.70" y1="111.30" x2="519.50" y2="111.30" stroke="#555" stroke-width="0.9"/>
<line x1="402.00" y1="111.30" x2="405.70" y2="111.30" stroke="#444" stroke-width="0.9"/>
<text x="401.10" y="113.90" font-size="7.3" text-anchor="end" font-weight="normal" fill="#111" stroke="#111" stroke-width="0.3">0</text>
<line x1="402.00" y1="95.93" x2="405.70" y2="95.93" stroke="#444" stroke-width="0.9"/>
<text x="401.10" y="98.53" font-size="7.3" text-anchor="end" font-weight="normal" fill="#111" stroke="#111" stroke-width="0.3">5</text>
<line x1="402.00" y1="80.57" x2="405.70" y2="80.57" stroke="#444" stroke-width="0.9"/>
<text x="401.10" y="83.17" font-size="7.3" text-anchor="end" font-weight="normal" fill="#111" stroke="#111" stroke-width="0.3">10</text>
<line x1="402.00" y1="65.20" x2="405.70" y2="65.20" stroke="#444" stroke-width="0.9"/>
<text x="401.10" y="67.80" font-size="7.3" text-anchor="end" font-weight="normal" fill="#111" stroke="#111" stroke-width="0.3">15</text>
<line x1="402.00" y1="49.83" x2="405.70" y2="49.83" stroke="#444" stroke-width="0.9"/>
<text x="401.10" y="52.43" font-size="7.3" text-anchor="end" font-weight="normal" fill="#111" stroke="#111" stroke-width="0.3">20</text>
<line x1="402.00" y1="34.47" x2="405.70" y2="34.47" stroke="#444" stroke-width="0.9"/>
<text x="401.10" y="37.07" font-size="7.3" text-anchor="end" font-weight="normal" fill="#111" stroke="#111" stroke-width="0.3">25</text>
<line x1="402.00" y1="19.10" x2="405.70" y2="19.10" stroke="#444" stroke-width="0.9"/>
<text x="401.10" y="21.70" font-size="7.3" text-anchor="end" font-weight="normal" fill="#111" stroke="#111" stroke-width="0.3">30</text>
<line x1="415.40" y1="111.30" x2="415.40" y2="114.30" stroke="#555" stroke-width="0.9"/>
<line x1="434.20" y1="111.30" x2="434.20" y2="114.30" stroke="#555" stroke-width="0.9"/>
<line x1="453.10" y1="111.30" x2="453.10" y2="114.30" stroke="#555" stroke-width="0.9"/>
<line x1="472.00" y1="111.30" x2="472.00" y2="114.30" stroke="#555" stroke-width="0.9"/>
<line x1="491.00" y1="111.30" x2="491.00" y2="114.30" stroke="#555" stroke-width="0.9"/>
<line x1="510.00" y1="111.30" x2="510.00" y2="114.30" stroke="#555" stroke-width="0.9"/>
<text x="415.40" y="121.10" font-size="7.3" text-anchor="middle" font-weight="normal" fill="#111" stroke="#111" stroke-width="0.3">0</text>
<text x="434.20" y="121.10" font-size="7.3" text-anchor="middle" font-weight="normal" fill="#111" stroke="#111" stroke-width="0.3">0.01</text>
<text x="453.10" y="121.10" font-size="7.3" text-anchor="middle" font-weight="normal" fill="#111" stroke="#111" stroke-width="0.3">0.1</text>
<text x="472.00" y="121.10" font-size="7.3" text-anchor="middle" font-weight="normal" fill="#111" stroke="#111" stroke-width="0.3">0.5</text>
<text x="491.00" y="121.10" font-size="7.3" text-anchor="middle" font-weight="normal" fill="#111" stroke="#111" stroke-width="0.3">1</text>
<text x="510.00" y="121.10" font-size="7.3" text-anchor="middle" font-weight="normal" fill="#111" stroke="#111" stroke-width="0.3">5</text>
<text x="410.30" y="120.80" font-size="6.7" text-anchor="end" font-weight="normal" fill="#111" stroke="#111" stroke-width="0.3">(µmol/L):</text>
<text x="390.20" y="65.70" font-size="7.4" text-anchor="middle" font-weight="normal" fill="#111" stroke="#111" stroke-width="0.3" transform="rotate(-90 390.20 65.70)">Cleaved PARP:HSP90</text>
<line x1="510.00" y1="84.25" x2="510.00" y2="55.98" stroke="#111" stroke-width="1.1"/>
<line x1="507.00" y1="84.25" x2="513.00" y2="84.25" stroke="#111" stroke-width="1.1"/>
<line x1="507.00" y1="55.98" x2="513.00" y2="55.98" stroke="#111" stroke-width="1.1"/>
<polyline points="415.40,108.23 434.20,107.61 453.10,106.69 472.00,104.23 491.00,102.69 510.00,69.50" fill="none" stroke="#111" stroke-width="1.3"/>
<circle cx="415.40" cy="108.23" r="4.1" fill="#0a0a0a" stroke="#0a0a0a" stroke-width="1.1"/>
<circle cx="434.20" cy="107.61" r="4.1" fill="#0a0a0a" stroke="#0a0a0a" stroke-width="1.1"/>
<circle cx="453.10" cy="106.69" r="4.1" fill="#0a0a0a" stroke="#0a0a0a" stroke-width="1.1"/>
<circle cx="472.00" cy="104.23" r="4.1" fill="#0a0a0a" stroke="#0a0a0a" stroke-width="1.1"/>
<circle cx="491.00" cy="102.69" r="4.1" fill="#0a0a0a" stroke="#0a0a0a" stroke-width="1.1"/>
<circle cx="510.00" cy="69.50" r="4.1" fill="#0a0a0a" stroke="#0a0a0a" stroke-width="1.1"/>
<line x1="453.10" y1="97.78" x2="453.10" y2="89.79" stroke="#111" stroke-width="1.1"/>
<line x1="450.10" y1="97.78" x2="456.10" y2="97.78" stroke="#111" stroke-width="1.1"/>
<line x1="450.10" y1="89.79" x2="456.10" y2="89.79" stroke="#111" stroke-width="1.1"/>
<line x1="472.00" y1="71.96" x2="472.00" y2="53.52" stroke="#111" stroke-width="1.1"/>
<line x1="469.00" y1="71.96" x2="475.00" y2="71.96" stroke="#111" stroke-width="1.1"/>
<line x1="469.00" y1="53.52" x2="475.00" y2="53.52" stroke="#111" stroke-width="1.1"/>
<line x1="491.00" y1="60.90" x2="491.00" y2="38.15" stroke="#111" stroke-width="1.1"/>
<line x1="488.00" y1="60.90" x2="494.00" y2="60.90" stroke="#111" stroke-width="1.1"/>
<line x1="488.00" y1="38.15" x2="494.00" y2="38.15" stroke="#111" stroke-width="1.1"/>
<line x1="510.00" y1="60.59" x2="510.00" y2="36.31" stroke="#111" stroke-width="1.1"/>
<line x1="507.00" y1="60.59" x2="513.00" y2="60.59" stroke="#111" stroke-width="1.1"/>
<line x1="507.00" y1="36.31" x2="513.00" y2="36.31" stroke="#111" stroke-width="1.1"/>
<polyline points="415.40,108.23 434.20,107.61 453.10,93.78 472.00,62.74 491.00,49.53 510.00,48.60" fill="none" stroke="#111" stroke-width="1.3"/>
<circle cx="415.40" cy="108.23" r="4.1" fill="#fff" stroke="#0a0a0a" stroke-width="1.1"/>
<circle cx="434.20" cy="107.61" r="4.1" fill="#fff" stroke="#0a0a0a" stroke-width="1.1"/>
<circle cx="453.10" cy="93.78" r="4.1" fill="#fff" stroke="#0a0a0a" stroke-width="1.1"/>
<circle cx="472.00" cy="62.74" r="4.1" fill="#fff" stroke="#0a0a0a" stroke-width="1.1"/>
<circle cx="491.00" cy="49.53" r="4.1" fill="#fff" stroke="#0a0a0a" stroke-width="1.1"/>
<circle cx="510.00" cy="48.60" r="4.1" fill="#fff" stroke="#0a0a0a" stroke-width="1.1"/>
<text x="472.00" y="48.15" font-size="8.8" text-anchor="middle" font-weight="normal" fill="#111" stroke="#111" stroke-width="0.5" letter-spacing="0.35">*</text>
<text x="491.00" y="35.65" font-size="8.8" text-anchor="middle" font-weight="normal" fill="#111" stroke="#111" stroke-width="0.5" letter-spacing="0.35">***</text>
<line x1="430.50" y1="4.10" x2="450.50" y2="4.10" stroke="#111" stroke-width="1.2"/>
<circle cx="440.5" cy="4.1" r="4.2" fill="#0a0a0a" stroke="#0a0a0a" stroke-width="1.1"/>
<text x="452.50" y="7.40" font-size="9.4" text-anchor="start" font-weight="normal" fill="#111" stroke="#111" stroke-width="0.3">Vemurafenib</text>
<line x1="430.50" y1="17.10" x2="450.50" y2="17.10" stroke="#111" stroke-width="1.2"/>
<circle cx="440.5" cy="17.1" r="4.2" fill="#fff" stroke="#0a0a0a" stroke-width="1.1"/>
<text x="452.50" y="20.40" font-size="9.4" text-anchor="start" font-weight="normal" fill="#111" stroke="#111" stroke-width="0.3">PLX8394</text>
<line x1="252.50" y1="147.60" x2="252.50" y2="240.60" stroke="#555" stroke-width="0.9"/>
<line x1="252.50" y1="240.20" x2="367.00" y2="240.20" stroke="#555" stroke-width="0.9"/>
<line x1="248.80" y1="240.20" x2="252.50" y2="240.20" stroke="#444" stroke-width="0.9"/>
<text x="247.90" y="242.80" font-size="7.3" text-anchor="end" font-weight="normal" fill="#111" stroke="#111" stroke-width="0.3">0</text>
<line x1="248.80" y1="224.83" x2="252.50" y2="224.83" stroke="#444" stroke-width="0.9"/>
<text x="247.90" y="227.43" font-size="7.3" text-anchor="end" font-weight="normal" fill="#111" stroke="#111" stroke-width="0.3">0.5</text>
<line x1="248.80" y1="209.47" x2="252.50" y2="209.47" stroke="#444" stroke-width="0.9"/>
<text x="247.90" y="212.07" font-size="7.3" text-anchor="end" font-weight="normal" fill="#111" stroke="#111" stroke-width="0.3">1</text>
<line x1="248.80" y1="194.10" x2="252.50" y2="194.10" stroke="#444" stroke-width="0.9"/>
<text x="247.90" y="196.70" font-size="7.3" text-anchor="end" font-weight="normal" fill="#111" stroke="#111" stroke-width="0.3">1.5</text>
<line x1="248.80" y1="178.73" x2="252.50" y2="178.73" stroke="#444" stroke-width="0.9"/>
<text x="247.90" y="181.33" font-size="7.3" text-anchor="end" font-weight="normal" fill="#111" stroke="#111" stroke-width="0.3">2</text>
<line x1="248.80" y1="163.37" x2="252.50" y2="163.37" stroke="#444" stroke-width="0.9"/>
<text x="247.90" y="165.97" font-size="7.3" text-anchor="end" font-weight="normal" fill="#111" stroke="#111" stroke-width="0.3">2.5</text>
<line x1="248.80" y1="148.00" x2="252.50" y2="148.00" stroke="#444" stroke-width="0.9"/>
<text x="247.90" y="150.60" font-size="7.3" text-anchor="end" font-weight="normal" fill="#111" stroke="#111" stroke-width="0.3">3</text>
<line x1="262.00" y1="240.20" x2="262.00" y2="243.20" stroke="#555" stroke-width="0.9"/>
<line x1="281.00" y1="240.20" x2="281.00" y2="243.20" stroke="#555" stroke-width="0.9"/>
<line x1="300.00" y1="240.20" x2="300.00" y2="243.20" stroke="#555" stroke-width="0.9"/>
<line x1="319.00" y1="240.20" x2="319.00" y2="243.20" stroke="#555" stroke-width="0.9"/>
<line x1="338.00" y1="240.20" x2="338.00" y2="243.20" stroke="#555" stroke-width="0.9"/>
<line x1="357.00" y1="240.20" x2="357.00" y2="243.20" stroke="#555" stroke-width="0.9"/>
<text x="262.00" y="250.40" font-size="7.3" text-anchor="middle" font-weight="normal" fill="#111" stroke="#111" stroke-width="0.3">0</text>
<text x="281.00" y="250.40" font-size="7.3" text-anchor="middle" font-weight="normal" fill="#111" stroke="#111" stroke-width="0.3">0.01</text>
<text x="300.00" y="250.40" font-size="7.3" text-anchor="middle" font-weight="normal" fill="#111" stroke="#111" stroke-width="0.3">0.1</text>
<text x="319.00" y="250.40" font-size="7.3" text-anchor="middle" font-weight="normal" fill="#111" stroke="#111" stroke-width="0.3">0.5</text>
<text x="338.00" y="250.40" font-size="7.3" text-anchor="middle" font-weight="normal" fill="#111" stroke="#111" stroke-width="0.3">1</text>
<text x="357.00" y="250.40" font-size="7.3" text-anchor="middle" font-weight="normal" fill="#111" stroke="#111" stroke-width="0.3">5</text>
<text x="256.80" y="250.10" font-size="6.7" text-anchor="end" font-weight="normal" fill="#111" stroke="#111" stroke-width="0.3">(µmol/L):</text>
<text x="234.10" y="194.60" font-size="7.4" text-anchor="middle" font-weight="normal" fill="#111" stroke="#111" stroke-width="0.3" transform="rotate(-90 234.10 194.60)">pERK1/2:ERK2</text>
<line x1="281.00" y1="215.61" x2="281.00" y2="199.32" stroke="#111" stroke-width="1.1"/>
<line x1="278.00" y1="215.61" x2="284.00" y2="215.61" stroke="#111" stroke-width="1.1"/>
<line x1="278.00" y1="199.32" x2="284.00" y2="199.32" stroke="#111" stroke-width="1.1"/>
<line x1="300.00" y1="214.38" x2="300.00" y2="163.37" stroke="#111" stroke-width="1.1"/>
<line x1="297.00" y1="214.38" x2="303.00" y2="214.38" stroke="#111" stroke-width="1.1"/>
<line x1="297.00" y1="163.37" x2="303.00" y2="163.37" stroke="#111" stroke-width="1.1"/>
<line x1="319.00" y1="210.70" x2="319.00" y2="165.21" stroke="#111" stroke-width="1.1"/>
<line x1="316.00" y1="210.70" x2="322.00" y2="210.70" stroke="#111" stroke-width="1.1"/>
<line x1="316.00" y1="165.21" x2="322.00" y2="165.21" stroke="#111" stroke-width="1.1"/>
<line x1="338.00" y1="203.32" x2="338.00" y2="175.05" stroke="#111" stroke-width="1.1"/>
<line x1="335.00" y1="203.32" x2="341.00" y2="203.32" stroke="#111" stroke-width="1.1"/>
<line x1="335.00" y1="175.05" x2="341.00" y2="175.05" stroke="#111" stroke-width="1.1"/>
<line x1="357.00" y1="205.16" x2="357.00" y2="169.51" stroke="#111" stroke-width="1.1"/>
<line x1="354.00" y1="205.16" x2="360.00" y2="205.16" stroke="#111" stroke-width="1.1"/>
<line x1="354.00" y1="169.51" x2="360.00" y2="169.51" stroke="#111" stroke-width="1.1"/>
<polyline points="262.00,209.47 281.00,207.01 300.00,188.88 319.00,187.95 338.00,189.18 357.00,187.34" fill="none" stroke="#111" stroke-width="1.3"/>
<circle cx="262.00" cy="209.47" r="4.1" fill="#0a0a0a" stroke="#0a0a0a" stroke-width="1.1"/>
<circle cx="281.00" cy="207.01" r="4.1" fill="#0a0a0a" stroke="#0a0a0a" stroke-width="1.1"/>
<circle cx="300.00" cy="188.88" r="4.1" fill="#0a0a0a" stroke="#0a0a0a" stroke-width="1.1"/>
<circle cx="319.00" cy="187.95" r="4.1" fill="#0a0a0a" stroke="#0a0a0a" stroke-width="1.1"/>
<circle cx="338.00" cy="189.18" r="4.1" fill="#0a0a0a" stroke="#0a0a0a" stroke-width="1.1"/>
<circle cx="357.00" cy="187.34" r="4.1" fill="#0a0a0a" stroke="#0a0a0a" stroke-width="1.1"/>
<line x1="319.00" y1="220.22" x2="319.00" y2="202.40" stroke="#111" stroke-width="1.1"/>
<line x1="316.00" y1="220.22" x2="322.00" y2="220.22" stroke="#111" stroke-width="1.1"/>
<line x1="316.00" y1="202.40" x2="322.00" y2="202.40" stroke="#111" stroke-width="1.1"/>
<polyline points="262.00,209.77 281.00,211.62 300.00,218.07 319.00,211.31 338.00,228.21 357.00,236.20" fill="none" stroke="#111" stroke-width="1.3"/>
<circle cx="262.00" cy="209.77" r="4.1" fill="#fff" stroke="#0a0a0a" stroke-width="1.1"/>
<circle cx="281.00" cy="211.62" r="4.1" fill="#fff" stroke="#0a0a0a" stroke-width="1.1"/>
<circle cx="300.00" cy="218.07" r="4.1" fill="#fff" stroke="#0a0a0a" stroke-width="1.1"/>
<circle cx="319.00" cy="211.31" r="4.1" fill="#fff" stroke="#0a0a0a" stroke-width="1.1"/>
<circle cx="338.00" cy="228.21" r="4.1" fill="#fff" stroke="#0a0a0a" stroke-width="1.1"/>
<circle cx="357.00" cy="236.20" r="4.1" fill="#fff" stroke="#0a0a0a" stroke-width="1.1"/>
<line x1="404.00" y1="147.80" x2="404.00" y2="240.90" stroke="#555" stroke-width="0.9"/>
<line x1="404.00" y1="240.50" x2="519.00" y2="240.50" stroke="#555" stroke-width="0.9"/>
<line x1="400.30" y1="240.50" x2="404.00" y2="240.50" stroke="#444" stroke-width="0.9"/>
<text x="399.40" y="243.10" font-size="7.3" text-anchor="end" font-weight="normal" fill="#111" stroke="#111" stroke-width="0.3">0</text>
<line x1="400.30" y1="222.04" x2="404.00" y2="222.04" stroke="#444" stroke-width="0.9"/>
<text x="399.40" y="224.64" font-size="7.3" text-anchor="end" font-weight="normal" fill="#111" stroke="#111" stroke-width="0.3">5</text>
<line x1="400.30" y1="203.58" x2="404.00" y2="203.58" stroke="#444" stroke-width="0.9"/>
<text x="399.40" y="206.18" font-size="7.3" text-anchor="end" font-weight="normal" fill="#111" stroke="#111" stroke-width="0.3">10</text>
<line x1="400.30" y1="185.12" x2="404.00" y2="185.12" stroke="#444" stroke-width="0.9"/>
<text x="399.40" y="187.72" font-size="7.3" text-anchor="end" font-weight="normal" fill="#111" stroke="#111" stroke-width="0.3">15</text>
<line x1="400.30" y1="166.66" x2="404.00" y2="166.66" stroke="#444" stroke-width="0.9"/>
<text x="399.40" y="169.26" font-size="7.3" text-anchor="end" font-weight="normal" fill="#111" stroke="#111" stroke-width="0.3">20</text>
<line x1="400.30" y1="148.20" x2="404.00" y2="148.20" stroke="#444" stroke-width="0.9"/>
<text x="399.40" y="150.80" font-size="7.3" text-anchor="end" font-weight="normal" fill="#111" stroke="#111" stroke-width="0.3">25</text>
<line x1="413.80" y1="240.50" x2="413.80" y2="243.50" stroke="#555" stroke-width="0.9"/>
<line x1="432.80" y1="240.50" x2="432.80" y2="243.50" stroke="#555" stroke-width="0.9"/>
<line x1="451.80" y1="240.50" x2="451.80" y2="243.50" stroke="#555" stroke-width="0.9"/>
<line x1="470.80" y1="240.50" x2="470.80" y2="243.50" stroke="#555" stroke-width="0.9"/>
<line x1="489.80" y1="240.50" x2="489.80" y2="243.50" stroke="#555" stroke-width="0.9"/>
<line x1="508.70" y1="240.50" x2="508.70" y2="243.50" stroke="#555" stroke-width="0.9"/>
<text x="413.80" y="250.60" font-size="7.3" text-anchor="middle" font-weight="normal" fill="#111" stroke="#111" stroke-width="0.3">0</text>
<text x="432.80" y="250.60" font-size="7.3" text-anchor="middle" font-weight="normal" fill="#111" stroke="#111" stroke-width="0.3">0.01</text>
<text x="451.80" y="250.60" font-size="7.3" text-anchor="middle" font-weight="normal" fill="#111" stroke="#111" stroke-width="0.3">0.1</text>
<text x="470.80" y="250.60" font-size="7.3" text-anchor="middle" font-weight="normal" fill="#111" stroke="#111" stroke-width="0.3">0.5</text>
<text x="489.80" y="250.60" font-size="7.3" text-anchor="middle" font-weight="normal" fill="#111" stroke="#111" stroke-width="0.3">1</text>
<text x="508.70" y="250.60" font-size="7.3" text-anchor="middle" font-weight="normal" fill="#111" stroke="#111" stroke-width="0.3">5</text>
<text x="408.80" y="250.30" font-size="6.7" text-anchor="end" font-weight="normal" fill="#111" stroke="#111" stroke-width="0.3">(µmol/L):</text>
<text x="389.30" y="194.85" font-size="7.4" text-anchor="middle" font-weight="normal" fill="#111" stroke="#111" stroke-width="0.3" transform="rotate(-90 389.30 194.85)">Cleaved PARP:HSP90</text>
<polyline points="413.80,236.81 432.80,236.81 451.80,237.92 470.80,237.55 489.80,236.44 508.70,235.70" fill="none" stroke="#111" stroke-width="1.3"/>
<circle cx="413.80" cy="236.81" r="4.1" fill="#0a0a0a" stroke="#0a0a0a" stroke-width="1.1"/>
<circle cx="432.80" cy="236.81" r="4.1" fill="#0a0a0a" stroke="#0a0a0a" stroke-width="1.1"/>
<circle cx="451.80" cy="237.92" r="4.1" fill="#0a0a0a" stroke="#0a0a0a" stroke-width="1.1"/>
<circle cx="470.80" cy="237.55" r="4.1" fill="#0a0a0a" stroke="#0a0a0a" stroke-width="1.1"/>
<circle cx="489.80" cy="236.44" r="4.1" fill="#0a0a0a" stroke="#0a0a0a" stroke-width="1.1"/>
<circle cx="508.70" cy="235.70" r="4.1" fill="#0a0a0a" stroke="#0a0a0a" stroke-width="1.1"/>
<line x1="489.80" y1="220.56" x2="489.80" y2="200.63" stroke="#111" stroke-width="1.1"/>
<line x1="486.80" y1="220.56" x2="492.80" y2="220.56" stroke="#111" stroke-width="1.1"/>
<line x1="486.80" y1="200.63" x2="492.80" y2="200.63" stroke="#111" stroke-width="1.1"/>
<line x1="508.70" y1="199.15" x2="508.70" y2="162.97" stroke="#111" stroke-width="1.1"/>
<line x1="505.70" y1="199.15" x2="511.70" y2="199.15" stroke="#111" stroke-width="1.1"/>
<line x1="505.70" y1="162.97" x2="511.70" y2="162.97" stroke="#111" stroke-width="1.1"/>
<polyline points="413.80,236.81 432.80,236.81 451.80,234.59 470.80,226.47 489.80,210.59 508.70,181.43" fill="none" stroke="#111" stroke-width="1.3"/>
<circle cx="413.80" cy="236.81" r="4.1" fill="#fff" stroke="#0a0a0a" stroke-width="1.1"/>
<circle cx="432.80" cy="236.81" r="4.1" fill="#fff" stroke="#0a0a0a" stroke-width="1.1"/>
<circle cx="451.80" cy="234.59" r="4.1" fill="#fff" stroke="#0a0a0a" stroke-width="1.1"/>
<circle cx="470.80" cy="226.47" r="4.1" fill="#fff" stroke="#0a0a0a" stroke-width="1.1"/>
<circle cx="489.80" cy="210.59" r="4.1" fill="#fff" stroke="#0a0a0a" stroke-width="1.1"/>
<circle cx="508.70" cy="181.43" r="4.1" fill="#fff" stroke="#0a0a0a" stroke-width="1.1"/>
<text x="509.60" y="159.95" font-size="8.8" text-anchor="middle" font-weight="normal" fill="#111" stroke="#111" stroke-width="0.5" letter-spacing="0.35">****</text>
<line x1="430.00" y1="141.70" x2="450.00" y2="141.70" stroke="#111" stroke-width="1.2"/>
<circle cx="440" cy="141.7" r="4.2" fill="#0a0a0a" stroke="#0a0a0a" stroke-width="1.1"/>
<text x="450.60" y="145.00" font-size="9.4" text-anchor="start" font-weight="normal" fill="#111" stroke="#111" stroke-width="0.3">Vemurafenib</text>
<line x1="430.00" y1="154.80" x2="450.00" y2="154.80" stroke="#111" stroke-width="1.2"/>
<circle cx="440" cy="154.8" r="4.2" fill="#fff" stroke="#0a0a0a" stroke-width="1.1"/>
<text x="450.60" y="158.10" font-size="9.4" text-anchor="start" font-weight="normal" fill="#111" stroke="#111" stroke-width="0.3">PLX8394</text>
<line x1="252.50" y1="275.60" x2="252.50" y2="368.70" stroke="#555" stroke-width="0.9"/>
<line x1="252.50" y1="368.30" x2="367.00" y2="368.30" stroke="#555" stroke-width="0.9"/>
<line x1="248.80" y1="368.30" x2="252.50" y2="368.30" stroke="#444" stroke-width="0.9"/>
<text x="247.90" y="370.90" font-size="7.3" text-anchor="end" font-weight="normal" fill="#111" stroke="#111" stroke-width="0.3">0</text>
<line x1="248.80" y1="356.76" x2="252.50" y2="356.76" stroke="#444" stroke-width="0.9"/>
<text x="247.90" y="359.36" font-size="7.3" text-anchor="end" font-weight="normal" fill="#111" stroke="#111" stroke-width="0.3">0.2</text>
<line x1="248.80" y1="345.23" x2="252.50" y2="345.23" stroke="#444" stroke-width="0.9"/>
<text x="247.90" y="347.83" font-size="7.3" text-anchor="end" font-weight="normal" fill="#111" stroke="#111" stroke-width="0.3">0.4</text>
<line x1="248.80" y1="333.69" x2="252.50" y2="333.69" stroke="#444" stroke-width="0.9"/>
<text x="247.90" y="336.29" font-size="7.3" text-anchor="end" font-weight="normal" fill="#111" stroke="#111" stroke-width="0.3">0.6</text>
<line x1="248.80" y1="322.15" x2="252.50" y2="322.15" stroke="#444" stroke-width="0.9"/>
<text x="247.90" y="324.75" font-size="7.3" text-anchor="end" font-weight="normal" fill="#111" stroke="#111" stroke-width="0.3">0.8</text>
<line x1="248.80" y1="310.61" x2="252.50" y2="310.61" stroke="#444" stroke-width="0.9"/>
<text x="247.90" y="313.21" font-size="7.3" text-anchor="end" font-weight="normal" fill="#111" stroke="#111" stroke-width="0.3">1</text>
<line x1="248.80" y1="299.07" x2="252.50" y2="299.07" stroke="#444" stroke-width="0.9"/>
<text x="247.90" y="301.68" font-size="7.3" text-anchor="end" font-weight="normal" fill="#111" stroke="#111" stroke-width="0.3">1.2</text>
<line x1="248.80" y1="287.54" x2="252.50" y2="287.54" stroke="#444" stroke-width="0.9"/>
<text x="247.90" y="290.14" font-size="7.3" text-anchor="end" font-weight="normal" fill="#111" stroke="#111" stroke-width="0.3">1.4</text>
<line x1="248.80" y1="276.00" x2="252.50" y2="276.00" stroke="#444" stroke-width="0.9"/>
<text x="247.90" y="278.60" font-size="7.3" text-anchor="end" font-weight="normal" fill="#111" stroke="#111" stroke-width="0.3">1.6</text>
<line x1="262.00" y1="368.30" x2="262.00" y2="371.30" stroke="#555" stroke-width="0.9"/>
<line x1="281.00" y1="368.30" x2="281.00" y2="371.30" stroke="#555" stroke-width="0.9"/>
<line x1="300.00" y1="368.30" x2="300.00" y2="371.30" stroke="#555" stroke-width="0.9"/>
<line x1="319.00" y1="368.30" x2="319.00" y2="371.30" stroke="#555" stroke-width="0.9"/>
<line x1="338.00" y1="368.30" x2="338.00" y2="371.30" stroke="#555" stroke-width="0.9"/>
<line x1="357.00" y1="368.30" x2="357.00" y2="371.30" stroke="#555" stroke-width="0.9"/>
<text x="262.00" y="379.80" font-size="7.3" text-anchor="middle" font-weight="normal" fill="#111" stroke="#111" stroke-width="0.3">0</text>
<text x="281.00" y="379.80" font-size="7.3" text-anchor="middle" font-weight="normal" fill="#111" stroke="#111" stroke-width="0.3">0.01</text>
<text x="300.00" y="379.80" font-size="7.3" text-anchor="middle" font-weight="normal" fill="#111" stroke="#111" stroke-width="0.3">0.1</text>
<text x="319.00" y="379.80" font-size="7.3" text-anchor="middle" font-weight="normal" fill="#111" stroke="#111" stroke-width="0.3">0.5</text>
<text x="338.00" y="379.80" font-size="7.3" text-anchor="middle" font-weight="normal" fill="#111" stroke="#111" stroke-width="0.3">1</text>
<text x="357.00" y="379.80" font-size="7.3" text-anchor="middle" font-weight="normal" fill="#111" stroke="#111" stroke-width="0.3">5</text>
<text x="256.80" y="379.50" font-size="6.7" text-anchor="end" font-weight="normal" fill="#111" stroke="#111" stroke-width="0.3">(µmol/L):</text>
<text x="235.00" y="322.65" font-size="7.4" text-anchor="middle" font-weight="normal" fill="#111" stroke="#111" stroke-width="0.3" transform="rotate(-90 235.00 322.65)">pERK1/2:ERK2</text>
<line x1="281.00" y1="320.42" x2="281.00" y2="289.85" stroke="#111" stroke-width="1.1"/>
<line x1="278.00" y1="320.42" x2="284.00" y2="320.42" stroke="#111" stroke-width="1.1"/>
<line x1="278.00" y1="289.85" x2="284.00" y2="289.85" stroke="#111" stroke-width="1.1"/>
<line x1="300.00" y1="319.27" x2="300.00" y2="311.19" stroke="#111" stroke-width="1.1"/>
<line x1="297.00" y1="319.27" x2="303.00" y2="319.27" stroke="#111" stroke-width="1.1"/>
<line x1="297.00" y1="311.19" x2="303.00" y2="311.19" stroke="#111" stroke-width="1.1"/>
<line x1="319.00" y1="330.23" x2="319.00" y2="306.00" stroke="#111" stroke-width="1.1"/>
<line x1="316.00" y1="330.23" x2="322.00" y2="330.23" stroke="#111" stroke-width="1.1"/>
<line x1="316.00" y1="306.00" x2="322.00" y2="306.00" stroke="#111" stroke-width="1.1"/>
<line x1="338.00" y1="333.69" x2="338.00" y2="321.00" stroke="#111" stroke-width="1.1"/>
<line x1="335.00" y1="333.69" x2="341.00" y2="333.69" stroke="#111" stroke-width="1.1"/>
<line x1="335.00" y1="321.00" x2="341.00" y2="321.00" stroke="#111" stroke-width="1.1"/>
<polyline points="262.00,310.61 281.00,305.42 300.00,315.23 319.00,318.11 338.00,327.34 357.00,337.73" fill="none" stroke="#111" stroke-width="1.3"/>
<circle cx="262.00" cy="310.61" r="4.1" fill="#0a0a0a" stroke="#0a0a0a" stroke-width="1.1"/>
<circle cx="281.00" cy="305.42" r="4.1" fill="#0a0a0a" stroke="#0a0a0a" stroke-width="1.1"/>
<circle cx="300.00" cy="315.23" r="4.1" fill="#0a0a0a" stroke="#0a0a0a" stroke-width="1.1"/>
<circle cx="319.00" cy="318.11" r="4.1" fill="#0a0a0a" stroke="#0a0a0a" stroke-width="1.1"/>
<circle cx="338.00" cy="327.34" r="4.1" fill="#0a0a0a" stroke="#0a0a0a" stroke-width="1.1"/>
<circle cx="357.00" cy="337.73" r="4.1" fill="#0a0a0a" stroke="#0a0a0a" stroke-width="1.1"/>
<line x1="300.00" y1="354.45" x2="300.00" y2="342.92" stroke="#111" stroke-width="1.1"/>
<line x1="297.00" y1="354.45" x2="303.00" y2="354.45" stroke="#111" stroke-width="1.1"/>
<line x1="297.00" y1="342.92" x2="303.00" y2="342.92" stroke="#111" stroke-width="1.1"/>
<line x1="338.00" y1="363.40" x2="338.00" y2="352.15" stroke="#111" stroke-width="1.1"/>
<line x1="335.00" y1="363.40" x2="341.00" y2="363.40" stroke="#111" stroke-width="1.1"/>
<line x1="335.00" y1="352.15" x2="341.00" y2="352.15" stroke="#111" stroke-width="1.1"/>
<line x1="357.00" y1="360.22" x2="357.00" y2="349.26" stroke="#111" stroke-width="1.1"/>
<line x1="354.00" y1="360.22" x2="360.00" y2="360.22" stroke="#111" stroke-width="1.1"/>
<line x1="354.00" y1="349.26" x2="360.00" y2="349.26" stroke="#111" stroke-width="1.1"/>
<polyline points="262.00,310.61 281.00,336.00 300.00,348.69 319.00,359.65 338.00,357.92 357.00,355.03" fill="none" stroke="#111" stroke-width="1.3"/>
<circle cx="262.00" cy="310.61" r="4.1" fill="#fff" stroke="#0a0a0a" stroke-width="1.1"/>
<circle cx="281.00" cy="336.00" r="4.1" fill="#fff" stroke="#0a0a0a" stroke-width="1.1"/>
<circle cx="300.00" cy="348.69" r="4.1" fill="#fff" stroke="#0a0a0a" stroke-width="1.1"/>
<circle cx="319.00" cy="359.65" r="4.1" fill="#fff" stroke="#0a0a0a" stroke-width="1.1"/>
<circle cx="338.00" cy="357.92" r="4.1" fill="#fff" stroke="#0a0a0a" stroke-width="1.1"/>
<circle cx="357.00" cy="355.03" r="4.1" fill="#fff" stroke="#0a0a0a" stroke-width="1.1"/>
<text x="319.00" y="303.35" font-size="8.8" text-anchor="middle" font-weight="normal" fill="#111" stroke="#111" stroke-width="0.5" letter-spacing="0.35">**</text>
<line x1="404.00" y1="276.10" x2="404.00" y2="369.20" stroke="#555" stroke-width="0.9"/>
<line x1="404.00" y1="368.80" x2="519.00" y2="368.80" stroke="#555" stroke-width="0.9"/>
<line x1="400.30" y1="368.80" x2="404.00" y2="368.80" stroke="#444" stroke-width="0.9"/>
<text x="399.40" y="371.40" font-size="7.3" text-anchor="end" font-weight="normal" fill="#111" stroke="#111" stroke-width="0.3">0</text>
<line x1="400.30" y1="355.61" x2="404.00" y2="355.61" stroke="#444" stroke-width="0.9"/>
<text x="399.40" y="358.21" font-size="7.3" text-anchor="end" font-weight="normal" fill="#111" stroke="#111" stroke-width="0.3">1</text>
<line x1="400.30" y1="342.43" x2="404.00" y2="342.43" stroke="#444" stroke-width="0.9"/>
<text x="399.40" y="345.03" font-size="7.3" text-anchor="end" font-weight="normal" fill="#111" stroke="#111" stroke-width="0.3">2</text>
<line x1="400.30" y1="329.24" x2="404.00" y2="329.24" stroke="#444" stroke-width="0.9"/>
<text x="399.40" y="331.84" font-size="7.3" text-anchor="end" font-weight="normal" fill="#111" stroke="#111" stroke-width="0.3">3</text>
<line x1="400.30" y1="316.06" x2="404.00" y2="316.06" stroke="#444" stroke-width="0.9"/>
<text x="399.40" y="318.66" font-size="7.3" text-anchor="end" font-weight="normal" fill="#111" stroke="#111" stroke-width="0.3">4</text>
<line x1="400.30" y1="302.87" x2="404.00" y2="302.87" stroke="#444" stroke-width="0.9"/>
<text x="399.40" y="305.47" font-size="7.3" text-anchor="end" font-weight="normal" fill="#111" stroke="#111" stroke-width="0.3">5</text>
<line x1="400.30" y1="289.69" x2="404.00" y2="289.69" stroke="#444" stroke-width="0.9"/>
<text x="399.40" y="292.29" font-size="7.3" text-anchor="end" font-weight="normal" fill="#111" stroke="#111" stroke-width="0.3">6</text>
<line x1="400.30" y1="276.50" x2="404.00" y2="276.50" stroke="#444" stroke-width="0.9"/>
<text x="399.40" y="279.10" font-size="7.3" text-anchor="end" font-weight="normal" fill="#111" stroke="#111" stroke-width="0.3">7</text>
<line x1="413.80" y1="368.80" x2="413.80" y2="371.80" stroke="#555" stroke-width="0.9"/>
<line x1="432.80" y1="368.80" x2="432.80" y2="371.80" stroke="#555" stroke-width="0.9"/>
<line x1="451.80" y1="368.80" x2="451.80" y2="371.80" stroke="#555" stroke-width="0.9"/>
<line x1="470.80" y1="368.80" x2="470.80" y2="371.80" stroke="#555" stroke-width="0.9"/>
<line x1="489.80" y1="368.80" x2="489.80" y2="371.80" stroke="#555" stroke-width="0.9"/>
<line x1="508.70" y1="368.80" x2="508.70" y2="371.80" stroke="#555" stroke-width="0.9"/>
<text x="413.80" y="379.60" font-size="7.3" text-anchor="middle" font-weight="normal" fill="#111" stroke="#111" stroke-width="0.3">0</text>
<text x="432.80" y="379.60" font-size="7.3" text-anchor="middle" font-weight="normal" fill="#111" stroke="#111" stroke-width="0.3">0.01</text>
<text x="451.80" y="379.60" font-size="7.3" text-anchor="middle" font-weight="normal" fill="#111" stroke="#111" stroke-width="0.3">0.1</text>
<text x="470.80" y="379.60" font-size="7.3" text-anchor="middle" font-weight="normal" fill="#111" stroke="#111" stroke-width="0.3">0.5</text>
<text x="489.80" y="379.60" font-size="7.3" text-anchor="middle" font-weight="normal" fill="#111" stroke="#111" stroke-width="0.3">1</text>
<text x="508.70" y="379.60" font-size="7.3" text-anchor="middle" font-weight="normal" fill="#111" stroke="#111" stroke-width="0.3">5</text>
<text x="408.80" y="379.30" font-size="6.7" text-anchor="end" font-weight="normal" fill="#111" stroke="#111" stroke-width="0.3">(µmol/L):</text>
<text x="392.00" y="323.15" font-size="7.4" text-anchor="middle" font-weight="normal" fill="#111" stroke="#111" stroke-width="0.3" transform="rotate(-90 392.00 323.15)">Cleaved PARP:HSP90</text>
<polyline points="413.80,355.61 432.80,355.88 451.80,356.93 470.80,356.93 489.80,355.61 508.70,346.38" fill="none" stroke="#111" stroke-width="1.3"/>
<circle cx="413.80" cy="355.61" r="4.1" fill="#0a0a0a" stroke="#0a0a0a" stroke-width="1.1"/>
<circle cx="432.80" cy="355.88" r="4.1" fill="#0a0a0a" stroke="#0a0a0a" stroke-width="1.1"/>
<circle cx="451.80" cy="356.93" r="4.1" fill="#0a0a0a" stroke="#0a0a0a" stroke-width="1.1"/>
<circle cx="470.80" cy="356.93" r="4.1" fill="#0a0a0a" stroke="#0a0a0a" stroke-width="1.1"/>
<circle cx="489.80" cy="355.61" r="4.1" fill="#0a0a0a" stroke="#0a0a0a" stroke-width="1.1"/>
<circle cx="508.70" cy="346.38" r="4.1" fill="#0a0a0a" stroke="#0a0a0a" stroke-width="1.1"/>
<line x1="451.80" y1="356.27" x2="451.80" y2="346.78" stroke="#111" stroke-width="1.1"/>
<line x1="448.80" y1="356.27" x2="454.80" y2="356.27" stroke="#111" stroke-width="1.1"/>
<line x1="448.80" y1="346.78" x2="454.80" y2="346.78" stroke="#111" stroke-width="1.1"/>
<line x1="470.80" y1="341.51" x2="470.80" y2="326.61" stroke="#111" stroke-width="1.1"/>
<line x1="467.80" y1="341.51" x2="473.80" y2="341.51" stroke="#111" stroke-width="1.1"/>
<line x1="467.80" y1="326.61" x2="473.80" y2="326.61" stroke="#111" stroke-width="1.1"/>
<line x1="489.80" y1="334.52" x2="489.80" y2="313.02" stroke="#111" stroke-width="1.1"/>
<line x1="486.80" y1="334.52" x2="492.80" y2="334.52" stroke="#111" stroke-width="1.1"/>
<line x1="486.80" y1="313.02" x2="492.80" y2="313.02" stroke="#111" stroke-width="1.1"/>
<line x1="508.70" y1="320.01" x2="508.70" y2="291.00" stroke="#111" stroke-width="1.1"/>
<line x1="505.70" y1="320.01" x2="511.70" y2="320.01" stroke="#111" stroke-width="1.1"/>
<line x1="505.70" y1="291.00" x2="511.70" y2="291.00" stroke="#111" stroke-width="1.1"/>
<polyline points="413.80,355.61 432.80,357.20 451.80,351.66 470.80,334.52 489.80,323.97 508.70,305.51" fill="none" stroke="#111" stroke-width="1.3"/>
<circle cx="413.80" cy="355.61" r="4.1" fill="#fff" stroke="#0a0a0a" stroke-width="1.1"/>
<circle cx="432.80" cy="357.20" r="4.1" fill="#fff" stroke="#0a0a0a" stroke-width="1.1"/>
<circle cx="451.80" cy="351.66" r="4.1" fill="#fff" stroke="#0a0a0a" stroke-width="1.1"/>
<circle cx="470.80" cy="334.52" r="4.1" fill="#fff" stroke="#0a0a0a" stroke-width="1.1"/>
<circle cx="489.80" cy="323.97" r="4.1" fill="#fff" stroke="#0a0a0a" stroke-width="1.1"/>
<circle cx="508.70" cy="305.51" r="4.1" fill="#fff" stroke="#0a0a0a" stroke-width="1.1"/>
<text x="489.20" y="310.35" font-size="8.8" text-anchor="middle" font-weight="normal" fill="#111" stroke="#111" stroke-width="0.5" letter-spacing="0.35">*</text>
<text x="508.90" y="287.95" font-size="8.8" text-anchor="middle" font-weight="normal" fill="#111" stroke="#111" stroke-width="0.5" letter-spacing="0.35">**</text>
<line x1="424.80" y1="270.00" x2="444.80" y2="270.00" stroke="#111" stroke-width="1.2"/>
<circle cx="434.8" cy="270" r="4.2" fill="#0a0a0a" stroke="#0a0a0a" stroke-width="1.1"/>
<text x="445.20" y="273.30" font-size="9.4" text-anchor="start" font-weight="normal" fill="#111" stroke="#111" stroke-width="0.3">Vemurafenib</text>
<line x1="424.80" y1="283.00" x2="444.80" y2="283.00" stroke="#111" stroke-width="1.2"/>
<circle cx="434.8" cy="283" r="4.2" fill="#fff" stroke="#0a0a0a" stroke-width="1.1"/>
<text x="445.20" y="286.30" font-size="9.4" text-anchor="start" font-weight="normal" fill="#111" stroke="#111" stroke-width="0.3">PLX8394</text>
<text x="11.30" y="400.60" font-size="11.8" text-anchor="start" font-weight="bold" fill="#000" stroke="#000" stroke-width="0.15">D</text>
<text x="131.00" y="403.80" font-size="9.65" text-anchor="middle" font-weight="normal" fill="#111" stroke="#111" stroke-width="0.3">1205LuTR FLAG/Myc BRAF ΔEx 2-8</text>
<line x1="57.00" y1="409.10" x2="207.50" y2="409.10" stroke="#111" stroke-width="0.8"/>
<text x="108.50" y="418.50" font-size="6.5" text-anchor="middle" font-weight="normal" fill="#111" stroke="#111" stroke-width="0.3">PLX4720 (µmol/L)</text>
<line x1="80.60" y1="421.50" x2="136.00" y2="421.50" stroke="#111" stroke-width="0.7"/>
<text x="178.00" y="418.50" font-size="6.5" text-anchor="middle" font-weight="normal" fill="#111" stroke="#111" stroke-width="0.3">PLX8394 (µmol/L)</text>
<line x1="149.00" y1="421.50" x2="206.00" y2="421.50" stroke="#111" stroke-width="0.7"/>
<text x="63.20" y="439.60" font-size="7.7" text-anchor="start" font-weight="normal" fill="#111" stroke="#111" stroke-width="0.3" transform="rotate(-90 63.20 439.60)">No Dox</text>
<text x="76.40" y="439.60" font-size="7.7" text-anchor="start" font-weight="normal" fill="#111" stroke="#111" stroke-width="0.3" transform="rotate(-90 76.40 439.60)">DMSO</text>
<text x="88.60" y="439.60" font-size="7.0" text-anchor="start" font-weight="normal" fill="#111" stroke="#111" stroke-width="0.3" transform="rotate(-90 88.60 439.60)">0.05</text>
<text x="100.20" y="439.60" font-size="7.0" text-anchor="start" font-weight="normal" fill="#111" stroke="#111" stroke-width="0.3" transform="rotate(-90 100.20 439.60)">0.1</text>
<text x="112.20" y="439.60" font-size="7.0" text-anchor="start" font-weight="normal" fill="#111" stroke="#111" stroke-width="0.3" transform="rotate(-90 112.20 439.60)">0.5</text>
<text x="124.10" y="439.60" font-size="7.0" text-anchor="start" font-weight="normal" fill="#111" stroke="#111" stroke-width="0.3" transform="rotate(-90 124.10 439.60)">1</text>
<text x="135.40" y="439.60" font-size="7.0" text-anchor="start" font-weight="normal" fill="#111" stroke="#111" stroke-width="0.3" transform="rotate(-90 135.40 439.60)">5</text>
<text x="145.30" y="439.60" font-size="7.7" text-anchor="start" font-weight="normal" fill="#111" stroke="#111" stroke-width="0.3" transform="rotate(-90 145.30 439.60)">DMSO</text>
<text x="157.20" y="439.60" font-size="7.0" text-anchor="start" font-weight="normal" fill="#111" stroke="#111" stroke-width="0.3" transform="rotate(-90 157.20 439.60)">0.05</text>
<text x="168.60" y="439.60" font-size="7.0" text-anchor="start" font-weight="normal" fill="#111" stroke="#111" stroke-width="0.3" transform="rotate(-90 168.60 439.60)">0.1</text>
<text x="180.60" y="439.60" font-size="7.0" text-anchor="start" font-weight="normal" fill="#111" stroke="#111" stroke-width="0.3" transform="rotate(-90 180.60 439.60)">0.5</text>
<text x="192.60" y="439.60" font-size="7.0" text-anchor="start" font-weight="normal" fill="#111" stroke="#111" stroke-width="0.3" transform="rotate(-90 192.60 439.60)">1</text>
<text x="205.40" y="439.60" font-size="7.0" text-anchor="start" font-weight="normal" fill="#111" stroke="#111" stroke-width="0.3" transform="rotate(-90 205.40 439.60)">5</text>
<clipPath id="c13"><rect x="52.4" y="441" width="157.60" height="19.60"/></clipPath>
<rect x="52.4" y="441" width="157.60" height="19.60" fill="#efefef"/>
<rect x="52.4" y="441" width="157.60" height="19.60" fill="#000" opacity="0.22" filter="url(#nz)"/>
<g clip-path="url(#c13)"><g filter="url(#b0_8)">
<rect x="65.82" y="450.46" width="11.45" height="5.48" rx="2.00" fill="#101010" opacity="0.30"/>
<rect x="66.22" y="451.16" width="10.65" height="4.08" rx="1.60" fill="#0c0c0c" opacity="0.85"/>
<rect x="78.24" y="450.70" width="10.71" height="5.48" rx="2.00" fill="#101010" opacity="0.30"/>
<rect x="78.64" y="451.40" width="9.91" height="4.08" rx="1.60" fill="#0c0c0c" opacity="0.85"/>
<rect x="89.88" y="450.32" width="11.53" height="5.48" rx="2.00" fill="#101010" opacity="0.30"/>
<rect x="90.28" y="451.02" width="10.73" height="4.08" rx="1.60" fill="#0c0c0c" opacity="0.85"/>
<rect x="102.42" y="450.55" width="10.56" height="5.57" rx="2.00" fill="#101010" opacity="0.32"/>
<rect x="102.82" y="451.25" width="9.76" height="4.17" rx="1.60" fill="#0c0c0c" opacity="0.90"/>
<rect x="114.28" y="449.88" width="10.93" height="5.48" rx="2.00" fill="#101010" opacity="0.30"/>
<rect x="114.68" y="450.58" width="10.13" height="4.08" rx="1.60" fill="#0c0c0c" opacity="0.85"/>
<rect x="126.46" y="450.18" width="10.69" height="4.79" rx="1.70" fill="#101010" opacity="0.17"/>
<rect x="126.86" y="450.88" width="9.89" height="3.39" rx="1.60" fill="#0c0c0c" opacity="0.50"/>
<rect x="138.25" y="449.98" width="11.20" height="5.18" rx="1.89" fill="#101010" opacity="0.24"/>
<rect x="138.65" y="450.68" width="10.40" height="3.78" rx="1.60" fill="#0c0c0c" opacity="0.70"/>
<rect x="150.16" y="450.55" width="11.48" height="5.48" rx="2.00" fill="#101010" opacity="0.30"/>
<rect x="150.56" y="451.25" width="10.68" height="4.08" rx="1.60" fill="#0c0c0c" opacity="0.85"/>
<rect x="162.32" y="449.87" width="11.26" height="5.57" rx="2.00" fill="#101010" opacity="0.32"/>
<rect x="162.72" y="450.57" width="10.46" height="4.17" rx="1.60" fill="#0c0c0c" opacity="0.90"/>
<rect x="174.71" y="450.37" width="10.57" height="5.57" rx="2.00" fill="#101010" opacity="0.32"/>
<rect x="175.11" y="451.07" width="9.77" height="4.17" rx="1.60" fill="#0c0c0c" opacity="0.90"/>
<rect x="186.27" y="450.65" width="11.56" height="5.48" rx="2.00" fill="#101010" opacity="0.30"/>
<rect x="186.67" y="451.35" width="10.76" height="4.08" rx="1.60" fill="#0c0c0c" opacity="0.85"/>
<rect x="198.33" y="450.03" width="11.54" height="5.38" rx="1.99" fill="#101010" opacity="0.28"/>
<rect x="198.73" y="450.73" width="10.74" height="3.98" rx="1.60" fill="#0c0c0c" opacity="0.80"/>
</g></g>
<text x="49.20" y="454.60" font-size="9.6" text-anchor="end" font-weight="normal" fill="#111" stroke="#111" stroke-width="0.3">FLAG</text>
<clipPath id="c14"><rect x="52.4" y="464" width="157.60" height="18.00"/></clipPath>
<rect x="52.4" y="464" width="157.60" height="18.00" fill="#efefef"/>
<rect x="52.4" y="464" width="157.60" height="18.00" fill="#000" opacity="0.22" filter="url(#nz)"/>
<g clip-path="url(#c14)"><g filter="url(#b0_8)">
<rect x="66.06" y="472.60" width="10.98" height="5.79" rx="2.00" fill="#101010" opacity="0.32"/>
<rect x="66.46" y="473.30" width="10.18" height="4.39" rx="1.60" fill="#0c0c0c" opacity="0.90"/>
<rect x="77.90" y="473.25" width="11.40" height="5.68" rx="2.00" fill="#101010" opacity="0.30"/>
<rect x="78.30" y="473.95" width="10.60" height="4.28" rx="1.60" fill="#0c0c0c" opacity="0.85"/>
<rect x="90.19" y="472.42" width="10.92" height="5.68" rx="2.00" fill="#101010" opacity="0.30"/>
<rect x="90.59" y="473.12" width="10.12" height="4.28" rx="1.60" fill="#0c0c0c" opacity="0.85"/>
<rect x="102.30" y="472.72" width="10.81" height="5.79" rx="2.00" fill="#101010" opacity="0.32"/>
<rect x="102.70" y="473.42" width="10.01" height="4.39" rx="1.60" fill="#0c0c0c" opacity="0.90"/>
<rect x="114.36" y="472.40" width="10.78" height="5.79" rx="2.00" fill="#101010" opacity="0.32"/>
<rect x="114.76" y="473.10" width="9.98" height="4.39" rx="1.60" fill="#0c0c0c" opacity="0.90"/>
<rect x="126.59" y="472.98" width="10.42" height="5.68" rx="2.00" fill="#101010" opacity="0.30"/>
<rect x="126.99" y="473.68" width="9.62" height="4.28" rx="1.60" fill="#0c0c0c" opacity="0.85"/>
<rect x="138.39" y="472.76" width="10.93" height="5.79" rx="2.00" fill="#101010" opacity="0.32"/>
<rect x="138.79" y="473.46" width="10.13" height="4.39" rx="1.60" fill="#0c0c0c" opacity="0.90"/>
<rect x="150.50" y="472.22" width="10.80" height="5.79" rx="2.00" fill="#101010" opacity="0.32"/>
<rect x="150.90" y="472.92" width="10.00" height="4.39" rx="1.60" fill="#0c0c0c" opacity="0.90"/>
<rect x="162.44" y="472.83" width="11.01" height="5.79" rx="2.00" fill="#101010" opacity="0.32"/>
<rect x="162.84" y="473.53" width="10.21" height="4.39" rx="1.60" fill="#0c0c0c" opacity="0.90"/>
<rect x="174.21" y="472.32" width="11.58" height="5.68" rx="2.00" fill="#101010" opacity="0.30"/>
<rect x="174.61" y="473.02" width="10.78" height="4.28" rx="1.60" fill="#0c0c0c" opacity="0.85"/>
<rect x="186.27" y="473.05" width="11.57" height="5.68" rx="2.00" fill="#101010" opacity="0.30"/>
<rect x="186.67" y="473.75" width="10.77" height="4.28" rx="1.60" fill="#0c0c0c" opacity="0.85"/>
<rect x="198.74" y="472.36" width="10.72" height="5.68" rx="2.00" fill="#101010" opacity="0.30"/>
<rect x="199.14" y="473.06" width="9.92" height="4.28" rx="1.60" fill="#0c0c0c" opacity="0.85"/>
</g></g>
<text x="49.20" y="476.00" font-size="9.6" text-anchor="end" font-weight="normal" fill="#111" stroke="#111" stroke-width="0.3">Myc</text>
<clipPath id="c15"><rect x="52.4" y="486" width="157.60" height="18.00"/></clipPath>
<rect x="52.4" y="486" width="157.60" height="18.00" fill="#efefef"/>
<rect x="52.4" y="486" width="157.60" height="18.00" fill="#000" opacity="0.22" filter="url(#nz)"/>
<g clip-path="url(#c15)"><g filter="url(#b0_8)">
<rect x="53.83" y="493.32" width="11.33" height="3.64" rx="1.12" fill="#101010" opacity="0.04"/>
<rect x="54.23" y="494.02" width="10.53" height="2.24" rx="1.12" fill="#0c0c0c" opacity="0.12"/>
<rect x="66.27" y="492.90" width="10.56" height="4.93" rx="1.77" fill="#101010" opacity="0.32"/>
<rect x="66.67" y="493.60" width="9.76" height="3.53" rx="1.60" fill="#0c0c0c" opacity="0.90"/>
<rect x="77.85" y="493.14" width="11.49" height="4.77" rx="1.68" fill="#101010" opacity="0.28"/>
<rect x="78.25" y="493.84" width="10.69" height="3.37" rx="1.60" fill="#0c0c0c" opacity="0.80"/>
<rect x="90.29" y="493.54" width="10.71" height="4.77" rx="1.68" fill="#101010" opacity="0.28"/>
<rect x="90.69" y="494.24" width="9.91" height="3.37" rx="1.60" fill="#0c0c0c" opacity="0.80"/>
<rect x="101.95" y="492.83" width="11.50" height="4.85" rx="1.72" fill="#101010" opacity="0.30"/>
<rect x="102.35" y="493.53" width="10.70" height="3.45" rx="1.60" fill="#0c0c0c" opacity="0.85"/>
<rect x="114.13" y="493.25" width="11.24" height="4.85" rx="1.72" fill="#101010" opacity="0.30"/>
<rect x="114.53" y="493.95" width="10.44" height="3.45" rx="1.60" fill="#0c0c0c" opacity="0.85"/>
<rect x="126.57" y="492.85" width="10.47" height="4.68" rx="1.64" fill="#101010" opacity="0.26"/>
<rect x="126.97" y="493.55" width="9.67" height="3.28" rx="1.60" fill="#0c0c0c" opacity="0.75"/>
<rect x="138.39" y="493.41" width="10.91" height="4.77" rx="1.68" fill="#101010" opacity="0.28"/>
<rect x="138.79" y="494.11" width="10.11" height="3.37" rx="1.60" fill="#0c0c0c" opacity="0.80"/>
<rect x="150.14" y="492.95" width="11.53" height="4.44" rx="1.52" fill="#101010" opacity="0.21"/>
<rect x="150.54" y="493.65" width="10.73" height="3.04" rx="1.52" fill="#0c0c0c" opacity="0.60"/>
<rect x="162.27" y="493.56" width="11.36" height="4.35" rx="1.48" fill="#101010" opacity="0.19"/>
<rect x="162.67" y="494.26" width="10.56" height="2.95" rx="1.48" fill="#0c0c0c" opacity="0.55"/>
<rect x="174.29" y="493.21" width="11.43" height="3.94" rx="1.27" fill="#101010" opacity="0.10"/>
<rect x="174.69" y="493.91" width="10.63" height="2.54" rx="1.27" fill="#0c0c0c" opacity="0.30"/>
<rect x="186.33" y="493.28" width="11.44" height="3.78" rx="1.19" fill="#101010" opacity="0.07"/>
<rect x="186.73" y="493.98" width="10.64" height="2.38" rx="1.19" fill="#0c0c0c" opacity="0.20"/>
<rect x="198.70" y="493.76" width="10.81" height="3.58" rx="1.09" fill="#101010" opacity="0.03"/>
<rect x="199.10" y="494.46" width="10.01" height="2.18" rx="1.09" fill="#0c0c0c" opacity="0.08"/>
</g></g>
<text x="49.20" y="498.60" font-size="9.6" text-anchor="end" font-weight="normal" fill="#111" stroke="#111" stroke-width="0.3">pMEK1/2</text>
<clipPath id="c16"><rect x="52.4" y="507" width="157.60" height="19.00"/></clipPath>
<rect x="52.4" y="507" width="157.60" height="19.00" fill="#efefef"/>
<rect x="52.4" y="507" width="157.60" height="19.00" fill="#000" opacity="0.22" filter="url(#nz)"/>
<g clip-path="url(#c16)"><g filter="url(#b0_8)">
<rect x="53.74" y="513.48" width="11.51" height="5.14" rx="1.87" fill="#101010" opacity="0.32"/>
<rect x="54.14" y="514.18" width="10.71" height="3.75" rx="1.60" fill="#0c0c0c" opacity="0.90"/>
<rect x="66.27" y="513.24" width="10.56" height="5.06" rx="1.83" fill="#101010" opacity="0.30"/>
<rect x="66.67" y="513.94" width="9.76" height="3.66" rx="1.60" fill="#0c0c0c" opacity="0.85"/>
<rect x="78.26" y="513.45" width="10.69" height="5.14" rx="1.87" fill="#101010" opacity="0.32"/>
<rect x="78.66" y="514.15" width="9.89" height="3.75" rx="1.60" fill="#0c0c0c" opacity="0.90"/>
<rect x="90.35" y="513.04" width="10.59" height="5.14" rx="1.87" fill="#101010" opacity="0.32"/>
<rect x="90.75" y="513.74" width="9.79" height="3.75" rx="1.60" fill="#0c0c0c" opacity="0.90"/>
<rect x="102.38" y="512.98" width="10.64" height="5.14" rx="1.87" fill="#101010" opacity="0.32"/>
<rect x="102.78" y="513.68" width="9.84" height="3.75" rx="1.60" fill="#0c0c0c" opacity="0.90"/>
<rect x="114.37" y="513.28" width="10.77" height="5.06" rx="1.83" fill="#101010" opacity="0.30"/>
<rect x="114.77" y="513.98" width="9.97" height="3.66" rx="1.60" fill="#0c0c0c" opacity="0.85"/>
<rect x="126.43" y="513.91" width="10.75" height="4.71" rx="1.65" fill="#101010" opacity="0.23"/>
<rect x="126.83" y="514.61" width="9.95" height="3.31" rx="1.60" fill="#0c0c0c" opacity="0.65"/>
<rect x="138.54" y="513.73" width="10.61" height="4.53" rx="1.57" fill="#101010" opacity="0.19"/>
<rect x="138.94" y="514.43" width="9.81" height="3.13" rx="1.57" fill="#0c0c0c" opacity="0.55"/>
<rect x="150.69" y="513.71" width="10.42" height="4.27" rx="1.44" fill="#101010" opacity="0.14"/>
<rect x="151.09" y="514.41" width="9.62" height="2.87" rx="1.44" fill="#0c0c0c" opacity="0.40"/>
<rect x="162.74" y="513.75" width="10.42" height="4.01" rx="1.30" fill="#101010" opacity="0.09"/>
<rect x="163.14" y="514.45" width="9.62" height="2.61" rx="1.30" fill="#0c0c0c" opacity="0.25"/>
<rect x="174.47" y="513.84" width="11.06" height="4.79" rx="1.70" fill="#101010" opacity="0.24"/>
<rect x="174.87" y="514.54" width="10.26" height="3.40" rx="1.60" fill="#0c0c0c" opacity="0.70"/>
<rect x="186.57" y="513.12" width="10.97" height="5.14" rx="1.87" fill="#101010" opacity="0.32"/>
<rect x="186.97" y="513.82" width="10.17" height="3.75" rx="1.60" fill="#0c0c0c" opacity="0.90"/>
<rect x="198.84" y="513.86" width="10.53" height="5.14" rx="1.87" fill="#101010" opacity="0.32"/>
<rect x="199.24" y="514.56" width="9.73" height="3.75" rx="1.60" fill="#0c0c0c" opacity="0.90"/>
</g></g>
<text x="49.20" y="519.60" font-size="9.6" text-anchor="end" font-weight="normal" fill="#111" stroke="#111" stroke-width="0.3">MEK1/2</text>
<clipPath id="c17"><rect x="52.4" y="529.4" width="157.60" height="18.60"/></clipPath>
<rect x="52.4" y="529.4" width="157.60" height="18.60" fill="#efefef"/>
<rect x="52.4" y="529.4" width="157.60" height="18.60" fill="#000" opacity="0.22" filter="url(#nz)"/>
<g clip-path="url(#c17)"><g filter="url(#b0_8)">
<rect x="54.04" y="535.73" width="10.92" height="3.99" rx="1.29" fill="#101010" opacity="0.26"/>
<rect x="54.44" y="536.43" width="10.12" height="2.59" rx="1.29" fill="#0c0c0c" opacity="0.75"/>
<rect x="65.85" y="535.34" width="11.40" height="4.12" rx="1.36" fill="#101010" opacity="0.30"/>
<rect x="66.25" y="536.04" width="10.60" height="2.72" rx="1.36" fill="#0c0c0c" opacity="0.85"/>
<rect x="78.10" y="535.23" width="11.01" height="4.12" rx="1.36" fill="#101010" opacity="0.30"/>
<rect x="78.50" y="535.93" width="10.21" height="2.72" rx="1.36" fill="#0c0c0c" opacity="0.85"/>
<rect x="89.86" y="535.53" width="11.58" height="4.12" rx="1.36" fill="#101010" opacity="0.30"/>
<rect x="90.26" y="536.23" width="10.78" height="2.72" rx="1.36" fill="#0c0c0c" opacity="0.85"/>
<rect x="102.00" y="535.18" width="11.40" height="4.12" rx="1.36" fill="#101010" opacity="0.30"/>
<rect x="102.40" y="535.88" width="10.60" height="2.72" rx="1.36" fill="#0c0c0c" opacity="0.85"/>
<rect x="114.17" y="535.55" width="11.16" height="4.12" rx="1.36" fill="#101010" opacity="0.30"/>
<rect x="114.57" y="536.25" width="10.36" height="2.72" rx="1.36" fill="#0c0c0c" opacity="0.85"/>
<rect x="126.39" y="535.28" width="10.82" height="4.05" rx="1.33" fill="#101010" opacity="0.28"/>
<rect x="126.79" y="535.98" width="10.02" height="2.65" rx="1.33" fill="#0c0c0c" opacity="0.80"/>
<rect x="138.57" y="534.90" width="10.56" height="4.12" rx="1.36" fill="#101010" opacity="0.30"/>
<rect x="138.97" y="535.60" width="9.76" height="2.72" rx="1.36" fill="#0c0c0c" opacity="0.85"/>
<rect x="150.26" y="534.94" width="11.29" height="4.05" rx="1.33" fill="#101010" opacity="0.28"/>
<rect x="150.66" y="535.64" width="10.49" height="2.65" rx="1.33" fill="#0c0c0c" opacity="0.80"/>
<rect x="162.65" y="535.16" width="10.60" height="3.99" rx="1.29" fill="#101010" opacity="0.26"/>
<rect x="163.05" y="535.86" width="9.80" height="2.59" rx="1.29" fill="#0c0c0c" opacity="0.75"/>
<rect x="174.30" y="534.99" width="11.41" height="3.99" rx="1.29" fill="#101010" opacity="0.26"/>
<rect x="174.70" y="535.69" width="10.61" height="2.59" rx="1.29" fill="#0c0c0c" opacity="0.75"/>
<rect x="186.45" y="535.78" width="11.20" height="3.99" rx="1.29" fill="#101010" opacity="0.26"/>
<rect x="186.85" y="536.48" width="10.40" height="2.59" rx="1.29" fill="#0c0c0c" opacity="0.75"/>
<rect x="198.75" y="535.16" width="10.69" height="4.05" rx="1.33" fill="#101010" opacity="0.28"/>
<rect x="199.15" y="535.86" width="9.89" height="2.65" rx="1.33" fill="#0c0c0c" opacity="0.80"/>
</g></g>
<text x="49.20" y="542.40" font-size="9.6" text-anchor="end" font-weight="normal" fill="#111" stroke="#111" stroke-width="0.3">HSP90</text>
<text x="229.30" y="400.60" font-size="11.8" text-anchor="start" font-weight="bold" fill="#000" stroke="#000" stroke-width="0.15">E</text>
<text x="287.00" y="406.30" font-size="9.8" text-anchor="middle" font-weight="normal" fill="#111" stroke="#111" stroke-width="0.3">IP: FLAG</text>
<line x1="259.80" y1="409.20" x2="313.50" y2="409.20" stroke="#111" stroke-width="0.7"/>
<text x="271.40" y="468.80" font-size="7.75" text-anchor="start" font-weight="normal" fill="#111" stroke="#111" stroke-width="0.3" transform="rotate(-90 271.40 468.80)">No Dox</text>
<text x="283.50" y="468.80" font-size="7.75" text-anchor="start" font-weight="normal" fill="#111" stroke="#111" stroke-width="0.3" transform="rotate(-90 283.50 468.80)">DMSO</text>
<text x="295.70" y="468.80" font-size="7.75" text-anchor="start" font-weight="normal" fill="#111" stroke="#111" stroke-width="0.3" transform="rotate(-90 295.70 468.80)">1 µM PLX4720</text>
<text x="308.10" y="468.80" font-size="7.75" text-anchor="start" font-weight="normal" fill="#111" stroke="#111" stroke-width="0.3" transform="rotate(-90 308.10 468.80)">0.5 µM PLX8394</text>
<clipPath id="c18"><rect x="261.8" y="471.2" width="52.00" height="18.20"/></clipPath>
<rect x="261.8" y="471.2" width="52.00" height="18.20" fill="#e3e3e3"/>
<rect x="261.8" y="471.2" width="52.00" height="18.20" fill="#000" opacity="0.22" filter="url(#nz)"/>
<g clip-path="url(#c18)"><g filter="url(#b0_7)">
<rect x="276.42" y="478.64" width="9.75" height="5.05" rx="1.82" fill="#101010" opacity="0.31"/>
<rect x="276.82" y="479.34" width="8.95" height="3.65" rx="1.60" fill="#0c0c0c" opacity="0.87"/>
<rect x="288.13" y="478.61" width="9.73" height="5.05" rx="1.82" fill="#101010" opacity="0.31"/>
<rect x="288.53" y="479.31" width="8.93" height="3.65" rx="1.60" fill="#0c0c0c" opacity="0.87"/>
<rect x="300.12" y="478.77" width="10.35" height="4.77" rx="1.68" fill="#101010" opacity="0.25"/>
<rect x="300.52" y="479.47" width="9.55" height="3.37" rx="1.60" fill="#0c0c0c" opacity="0.72"/>
</g></g>
<clipPath id="c19"><rect x="261.8" y="491.9" width="52.00" height="20.00"/></clipPath>
<rect x="261.8" y="491.9" width="52.00" height="20.00" fill="#e5e5e5"/>
<rect x="261.8" y="491.9" width="52.00" height="20.00" fill="#000" opacity="0.22" filter="url(#nz)"/>
<g clip-path="url(#c19)"><g filter="url(#b0_9)">
<rect x="276.12" y="499.21" width="10.36" height="5.38" rx="1.99" fill="#101010" opacity="0.31"/>
<rect x="276.52" y="499.91" width="9.56" height="3.98" rx="1.60" fill="#0c0c0c" opacity="0.87"/>
<rect x="287.57" y="499.66" width="10.86" height="4.17" rx="1.39" fill="#101010" opacity="0.09"/>
<rect x="287.97" y="500.36" width="10.06" height="2.77" rx="1.39" fill="#0c0c0c" opacity="0.27"/>
<rect x="300.24" y="499.87" width="10.13" height="3.78" rx="1.19" fill="#101010" opacity="0.03"/>
<rect x="300.64" y="500.57" width="9.33" height="2.38" rx="1.19" fill="#0c0c0c" opacity="0.07"/>
</g></g>
<text x="256.00" y="482.20" font-size="8.8" text-anchor="end" font-weight="normal" fill="#111" stroke="#111" stroke-width="0.3">FLAG</text>
<text x="256.00" y="505.30" font-size="8.8" text-anchor="end" font-weight="normal" fill="#111" stroke="#111" stroke-width="0.3">Myc</text>
<text x="352.20" y="400.80" font-size="11.8" text-anchor="start" font-weight="bold" fill="#000" stroke="#000" stroke-width="0.15">F</text>
<line x1="398.60" y1="407.90" x2="398.60" y2="524.10" stroke="#666" stroke-width="0.9"/>
<line x1="398.60" y1="523.70" x2="451.70" y2="523.70" stroke="#666" stroke-width="0.9"/>
<line x1="395.20" y1="523.70" x2="398.60" y2="523.70" stroke="#666" stroke-width="0.9"/>
<text x="394.30" y="526.30" font-size="7.3" text-anchor="end" font-weight="normal" fill="#111" stroke="#111" stroke-width="0.3">0</text>
<line x1="395.20" y1="504.47" x2="398.60" y2="504.47" stroke="#666" stroke-width="0.9"/>
<text x="394.30" y="507.07" font-size="7.3" text-anchor="end" font-weight="normal" fill="#111" stroke="#111" stroke-width="0.3">0.2</text>
<line x1="395.20" y1="485.23" x2="398.60" y2="485.23" stroke="#666" stroke-width="0.9"/>
<text x="394.30" y="487.83" font-size="7.3" text-anchor="end" font-weight="normal" fill="#111" stroke="#111" stroke-width="0.3">0.4</text>
<line x1="395.20" y1="466.00" x2="398.60" y2="466.00" stroke="#666" stroke-width="0.9"/>
<text x="394.30" y="468.60" font-size="7.3" text-anchor="end" font-weight="normal" fill="#111" stroke="#111" stroke-width="0.3">0.6</text>
<line x1="395.20" y1="446.77" x2="398.60" y2="446.77" stroke="#666" stroke-width="0.9"/>
<text x="394.30" y="449.37" font-size="7.3" text-anchor="end" font-weight="normal" fill="#111" stroke="#111" stroke-width="0.3">0.8</text>
<line x1="395.20" y1="427.53" x2="398.60" y2="427.53" stroke="#666" stroke-width="0.9"/>
<text x="394.30" y="430.13" font-size="7.3" text-anchor="end" font-weight="normal" fill="#111" stroke="#111" stroke-width="0.3">1</text>
<line x1="395.20" y1="408.30" x2="398.60" y2="408.30" stroke="#666" stroke-width="0.9"/>
<text x="394.30" y="410.90" font-size="7.3" text-anchor="end" font-weight="normal" fill="#111" stroke="#111" stroke-width="0.3">1.2</text>
<line x1="398.60" y1="523.70" x2="398.60" y2="526.30" stroke="#777" stroke-width="0.8"/>
<line x1="451.30" y1="523.70" x2="451.30" y2="526.30" stroke="#777" stroke-width="0.8"/>
<text x="378.70" y="464.70" font-size="7.8" text-anchor="middle" font-weight="normal" fill="#111" stroke="#111" stroke-width="0.3" transform="rotate(-90 378.70 464.70)">Normalized ratio Myc/FLAG</text>
<rect x="402.0" y="427.53" width="16.3" height="96.17" fill="#000"/>
<rect x="418.4" y="496.29" width="15.2" height="27.41" fill="#7c7c7c" stroke="#111" stroke-width="1.0"/>
<rect x="434" y="509.47" width="15.4" height="14.23" fill="#fff" stroke="#111" stroke-width="1.0"/>
<line x1="425.90" y1="503.51" x2="425.90" y2="489.08" stroke="#111" stroke-width="1.2"/>
<line x1="422.60" y1="503.51" x2="429.20" y2="503.51" stroke="#111" stroke-width="1.2"/>
<line x1="422.60" y1="489.08" x2="429.20" y2="489.08" stroke="#111" stroke-width="1.2"/>
<line x1="441.80" y1="516.01" x2="441.80" y2="502.93" stroke="#111" stroke-width="1.2"/>
<line x1="438.50" y1="516.01" x2="445.10" y2="516.01" stroke="#111" stroke-width="1.2"/>
<line x1="438.50" y1="502.93" x2="445.10" y2="502.93" stroke="#111" stroke-width="1.2"/>
<text x="425.60" y="488.40" font-size="8.8" text-anchor="middle" font-weight="normal" fill="#111" stroke="#111" stroke-width="0.5" letter-spacing="0.35">*</text>
<text x="441.40" y="502.60" font-size="8.8" text-anchor="middle" font-weight="normal" fill="#111" stroke="#111" stroke-width="0.5" letter-spacing="0.35">*</text>
<text x="432.80" y="469.40" font-size="8.8" text-anchor="middle" font-weight="normal" fill="#111" stroke="#111" stroke-width="0.5" letter-spacing="0.35">*</text>
<polyline points="425.2,478.5 425.2,470.8 442,470.8 442,493.8" fill="none" stroke="#111" stroke-width="1.1"/>
<rect x="439.3" y="411.9" width="9.6" height="9.6" fill="#000" stroke="#111" stroke-width="1.2"/>
<text x="451.20" y="419.60" font-size="7.5" text-anchor="start" font-weight="normal" fill="#111" stroke="#111" stroke-width="0.3">DMSO</text>
<rect x="439.3" y="427.4" width="9.6" height="9.6" fill="#7c7c7c" stroke="#111" stroke-width="1.2"/>
<text x="451.20" y="435.10" font-size="7.5" text-anchor="start" font-weight="normal" fill="#111" stroke="#111" stroke-width="0.3">1 µmol/L PLX4720</text>
<rect x="439.3" y="442.9" width="9.6" height="9.6" fill="#fff" stroke="#111" stroke-width="1.2"/>
<text x="451.20" y="450.60" font-size="7.5" text-anchor="start" font-weight="normal" fill="#111" stroke="#111" stroke-width="0.3">0.5 µmol/L PLX8394</text>
</svg>
</body></html>
